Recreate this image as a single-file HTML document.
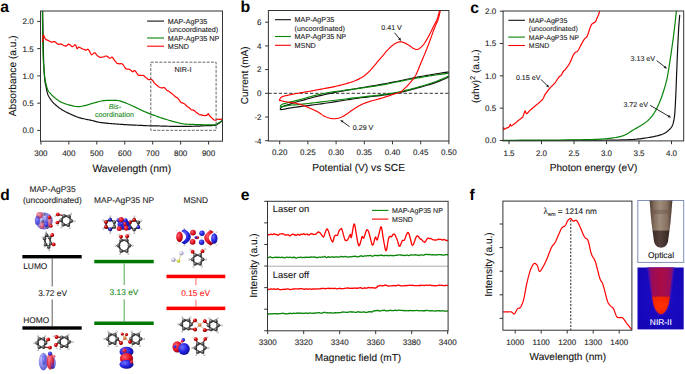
<!DOCTYPE html><html><head><meta charset="utf-8"><style>html,body{margin:0;padding:0;background:#fff;overflow:hidden}svg{display:block}text{font-family:"Liberation Sans", sans-serif;text-rendering:geometricPrecision}</style></head><body>
<svg width="685" height="374" viewBox="0 0 685 374">
<defs><clipPath id="ca"><rect x="40.5" y="11" width="182" height="130.2"/></clipPath><clipPath id="cb"><rect x="268.4" y="10.5" width="180.5" height="130.1"/></clipPath><clipPath id="cc"><rect x="503.1" y="11" width="180.6" height="129.7"/></clipPath><clipPath id="ce"><rect x="267.5" y="201.3" width="180.6" height="129.5"/></clipPath><clipPath id="cf"><rect x="502.9" y="201.1" width="129" height="129.1"/></clipPath></defs>
<rect width="685" height="374" fill="#fff"/>
<text x="0.2" y="12.1" font-size="15.7" text-anchor="start" fill="#000" font-weight="bold" font-style="normal">a</text>
<g clip-path="url(#ca)">
<polyline points="42.6,5 42.63,6.89 42.67,9.38 42.71,12.32 42.76,15.62 42.82,19.16 42.88,22.81 42.94,26.46 43,30 43.06,33.62 43.13,37.52 43.21,41.59 43.28,45.69 43.36,49.7 43.44,53.51 43.52,56.98 43.6,60 43.68,62.56 43.77,64.78 43.86,66.71 43.94,68.41 44.03,69.93 44.12,71.33 44.21,72.67 44.3,74 44.39,75.28 44.47,76.43 44.56,77.46 44.65,78.41 44.74,79.27 44.82,80.06 44.91,80.8 45,81.5 45.08,82.12 45.17,82.61 45.24,83.02 45.33,83.38 45.41,83.72 45.5,84.08 45.59,84.49 45.7,85 45.81,85.59 45.94,86.24 46.06,86.93 46.19,87.64 46.33,88.37 46.48,89.1 46.64,89.81 46.8,90.5 46.96,91.16 47.1,91.79 47.24,92.42 47.4,93.04 47.58,93.68 47.8,94.32 48.07,94.99 48.4,95.7 48.8,96.45 49.26,97.25 49.77,98.08 50.32,98.92 50.9,99.76 51.49,100.58 52.1,101.37 52.7,102.1 53.31,102.78 53.95,103.44 54.61,104.07 55.28,104.67 55.96,105.25 56.64,105.81 57.33,106.36 58,106.9 58.66,107.42 59.32,107.91 59.97,108.39 60.63,108.85 61.3,109.3 61.98,109.74 62.68,110.17 63.4,110.6 64.14,111.02 64.9,111.44 65.68,111.84 66.47,112.23 67.28,112.62 68.1,113.01 68.94,113.4 69.8,113.8 70.69,114.21 71.6,114.63 72.54,115.05 73.49,115.48 74.45,115.89 75.41,116.28 76.36,116.66 77.3,117 78.23,117.31 79.16,117.6 80.09,117.86 81.01,118.11 81.94,118.34 82.86,118.56 83.78,118.78 84.7,119 85.62,119.21 86.54,119.41 87.47,119.59 88.39,119.77 89.3,119.94 90.21,120.12 91.11,120.31 92,120.5 92.86,120.71 93.69,120.93 94.5,121.15 95.31,121.38 96.13,121.6 96.98,121.81 97.86,122.01 98.8,122.2 99.8,122.37 100.84,122.53 101.92,122.67 103.03,122.81 104.15,122.94 105.27,123.07 106.39,123.19 107.5,123.3 108.6,123.41 109.7,123.51 110.8,123.6 111.9,123.68 113,123.76 114.1,123.84 115.2,123.92 116.3,124 117.39,124.08 118.48,124.16 119.57,124.24 120.65,124.31 121.73,124.39 122.82,124.46 123.91,124.53 125,124.6 126.04,124.67 127.02,124.73 127.97,124.79 128.93,124.84 129.95,124.9 131.08,124.96 132.35,125.03 133.8,125.1 135.51,125.18 137.48,125.27 139.61,125.37 141.83,125.47 144.05,125.57 146.21,125.66 148.22,125.74 150,125.8 151.5,125.85 152.76,125.88 153.87,125.9 154.92,125.92 155.97,125.93 157.12,125.95 158.43,125.97 160,126 161.83,126.04 163.85,126.1 166.01,126.16 168.28,126.23 170.61,126.29 172.95,126.34 175.26,126.38 177.5,126.4 179.73,126.41 182.03,126.4 184.36,126.38 186.67,126.36 188.94,126.32 191.1,126.29 193.14,126.24 195,126.2 196.67,126.15 198.19,126.09 199.58,126.03 200.88,125.96 202.1,125.89 203.3,125.83 204.49,125.76 205.7,125.7 206.95,125.65 208.23,125.62 209.49,125.59 210.72,125.56 211.89,125.53 212.98,125.48 213.96,125.4 214.8,125.3 215.49,125.17 216.03,125.01 216.45,124.83 216.8,124.64 217.1,124.43 217.37,124.22 217.66,124.01 218,123.8 218.37,123.59 218.72,123.37 219.08,123.15 219.42,122.92 219.75,122.69 220.08,122.46 220.39,122.23 220.7,122 221.01,121.76 221.32,121.51 221.62,121.25 221.92,120.99 222.19,120.74 222.44,120.52 222.64,120.34 222.8,120.2" fill="none" stroke="#111" stroke-width="1.2" stroke-linejoin="round" stroke-linecap="round"/>
<polyline points="42.3,5 42.32,6.96 42.35,9.61 42.39,12.76 42.42,16.25 42.47,19.89 42.51,23.52 42.56,26.94 42.6,30 42.65,32.79 42.69,35.54 42.74,38.22 42.79,40.81 42.85,43.31 42.9,45.68 42.95,47.92 43,50 43.05,51.9 43.09,53.61 43.13,55.17 43.17,56.62 43.22,58 43.27,59.33 43.33,60.65 43.4,62 43.48,63.36 43.57,64.7 43.67,66.01 43.77,67.28 43.88,68.52 43.98,69.72 44.09,70.88 44.2,72 44.31,73.07 44.41,74.1 44.52,75.08 44.63,76.03 44.74,76.94 44.85,77.82 44.97,78.68 45.1,79.5 45.23,80.29 45.38,81.05 45.52,81.77 45.68,82.46 45.83,83.12 45.99,83.76 46.14,84.39 46.3,85 46.45,85.59 46.6,86.16 46.75,86.71 46.91,87.24 47.06,87.75 47.23,88.24 47.41,88.73 47.6,89.2 47.79,89.64 47.95,90.04 48.12,90.42 48.3,90.78 48.51,91.16 48.77,91.56 49.1,92 49.5,92.5 49.99,93.07 50.56,93.71 51.19,94.38 51.87,95.09 52.58,95.8 53.32,96.5 54.06,97.17 54.8,97.8 55.54,98.4 56.3,98.98 57.07,99.56 57.86,100.11 58.67,100.65 59.5,101.16 60.34,101.65 61.2,102.1 62.08,102.52 62.97,102.91 63.88,103.27 64.81,103.61 65.76,103.92 66.72,104.23 67.7,104.52 68.7,104.8 69.73,105.09 70.8,105.38 71.9,105.66 73.01,105.93 74.11,106.17 75.21,106.37 76.27,106.52 77.3,106.6 78.27,106.62 79.19,106.58 80.09,106.5 80.97,106.38 81.85,106.22 82.76,106.03 83.7,105.82 84.7,105.6 85.76,105.35 86.86,105.05 88.01,104.72 89.17,104.37 90.34,104.02 91.51,103.66 92.67,103.32 93.8,103 94.91,102.69 96,102.38 97.09,102.07 98.17,101.77 99.25,101.48 100.33,101.22 101.41,100.99 102.5,100.8 103.61,100.65 104.74,100.54 105.87,100.45 107.01,100.39 108.13,100.35 109.22,100.33 110.29,100.31 111.3,100.3 112.27,100.29 113.2,100.28 114.1,100.28 114.97,100.3 115.82,100.34 116.66,100.39 117.48,100.48 118.3,100.6 119.09,100.75 119.83,100.92 120.53,101.12 121.24,101.34 121.95,101.59 122.71,101.86 123.51,102.17 124.4,102.5 125.39,102.88 126.47,103.31 127.62,103.79 128.8,104.28 129.98,104.78 131.13,105.28 132.21,105.76 133.2,106.2 134.09,106.61 134.91,107 135.67,107.38 136.4,107.75 137.11,108.11 137.82,108.47 138.54,108.83 139.3,109.2 140.09,109.57 140.91,109.95 141.74,110.33 142.56,110.71 143.38,111.08 144.18,111.44 144.96,111.78 145.7,112.1 146.4,112.39 147.06,112.67 147.7,112.92 148.33,113.16 148.94,113.4 149.55,113.63 150.17,113.86 150.8,114.1 151.45,114.35 152.12,114.59 152.8,114.84 153.47,115.08 154.13,115.32 154.78,115.56 155.41,115.78 156,116 156.55,116.2 157.04,116.4 157.51,116.58 157.96,116.76 158.42,116.93 158.9,117.11 159.42,117.3 160,117.5 160.64,117.71 161.32,117.93 162.04,118.15 162.78,118.38 163.54,118.61 164.3,118.84 165.06,119.07 165.8,119.3 166.53,119.53 167.27,119.76 168.01,119.99 168.75,120.22 169.49,120.45 170.23,120.67 170.97,120.89 171.7,121.1 172.43,121.3 173.15,121.5 173.88,121.69 174.6,121.88 175.32,122.07 176.05,122.25 176.77,122.42 177.5,122.6 178.23,122.78 178.97,122.96 179.71,123.14 180.45,123.32 181.19,123.49 181.93,123.64 182.67,123.78 183.4,123.9 184.13,123.99 184.86,124.07 185.58,124.12 186.31,124.17 187.03,124.2 187.75,124.24 188.48,124.27 189.2,124.3 189.89,124.33 190.54,124.36 191.16,124.39 191.79,124.41 192.47,124.43 193.21,124.45 194.04,124.47 195,124.5 196.11,124.53 197.37,124.58 198.72,124.62 200.14,124.66 201.59,124.71 203.02,124.74 204.41,124.78 205.7,124.8 206.95,124.83 208.23,124.86 209.49,124.89 210.72,124.92 211.89,124.93 212.98,124.92 213.96,124.88 214.8,124.8 215.49,124.68 216.03,124.51 216.45,124.32 216.8,124.1 217.1,123.87 217.37,123.64 217.66,123.41 218,123.2 218.37,123 218.72,122.81 219.08,122.62 219.42,122.43 219.75,122.23 220.08,122.03 220.39,121.82 220.7,121.6 221.01,121.36 221.32,121.08 221.62,120.79 221.92,120.5 222.19,120.22 222.44,119.97 222.64,119.76 222.8,119.6" fill="none" stroke="#088408" stroke-width="1.2" stroke-linejoin="round" stroke-linecap="round"/>
<polyline points="42.6,41.37 43.2,34.91 43.8,35.64 44.4,36.93 45,38.3 45.6,39.19 46.2,39.68 46.8,39.9 47.4,40.09 48,40.36 48.6,40.65 49.2,41.07 49.8,41.25 50.4,41.73 51,41.94 51.6,42.18 52.2,42.13 52.8,41.94 53.4,41.68 54,41.52 54.6,41.58 55.2,41.98 55.8,42.43 56.4,42.99 57,43.42 57.6,43.97 58.2,44.19 58.8,44.33 59.4,44.2 60,44.11 60.6,44.06 61.2,43.94 61.8,44.2 62.4,44.48 63,45.11 63.6,45.55 64.2,45.78 64.8,45.9 65.4,45.93 66,46.15 66.6,45.87 67.2,45.39 67.8,44.61 68.4,44.22 69,44.16 69.6,44.54 70.2,45.05 70.8,45.52 71.4,46.2 72,46.61 72.6,46.74 73.2,46.34 73.8,45.84 74.4,45.21 75,44.68 75.6,44.94 76.2,46.38 76.8,48.28 77.4,48.66 78,47.78 78.6,47.02 79.2,47.19 79.8,47.46 80.4,47.86 81,48.03 81.6,48.41 82.2,48.82 82.8,49.03 83.4,49.22 84,49.35 84.6,49.73 85.2,49.92 85.8,50.11 86.4,49.99 87,49.44 87.6,49.21 88.2,49.32 88.8,50.17 89.4,50.89 90,52.2 90.6,53.51 91.2,54.44 91.8,54.79 92.4,54.42 93,53.89 93.6,53.32 94.2,52.88 94.8,52.82 95.4,53.13 96,53.99 96.6,54.83 97.2,55.45 97.8,55.98 98.4,56.36 99,56.88 99.6,57.1 100.2,57.29 100.8,57.28 101.4,57.22 102,57.23 102.6,57.14 103.2,57 103.8,56.79 104.4,56.58 105,56.26 105.6,56.02 106.2,55.98 106.8,56.16 107.4,56.51 108,57.02 108.6,57.52 109.2,57.97 109.8,58.1 110.4,58.13 111,57.67 111.6,57.13 112.2,57.12 112.8,57.73 113.4,58.66 114,59.63 114.6,60.41 115.2,61.3 115.8,61.97 116.4,62.7 117,63.27 117.6,63.59 118.2,63.64 118.8,63.66 119.4,63.84 120,63.79 120.6,63.66 121.2,63.56 121.8,63.72 122.4,64.07 123,64.66 123.6,65.53 124.2,66.55 124.8,67.49 125.4,68.26 126,68.81 126.6,69 127.2,69.15 127.8,69.15 128.4,69.23 129,69.19 129.6,69.41 130.2,69.78 130.8,70.28 131.4,70.74 132,71.38 132.6,71.7 133.2,71.56 133.8,70.77 134.4,70.44 135,70.67 135.6,71.5 136.2,72.21 136.8,73.11 137.4,73.93 138,74.8 138.6,75.23 139.2,75.34 139.8,75.23 140.4,75.3 141,75.35 141.6,75.49 142.2,75.49 142.8,75.46 143.4,75.45 144,75.78 144.6,76.38 145.2,77.08 145.8,77.51 146.4,77.89 147,78.33 147.6,79.01 148.2,79.51 148.8,79.8 149.4,79.61 150,79.34 150.6,79.15 151.2,79.37 151.8,79.7 152.4,80.2 153,80.91 153.6,81.85 154.2,82.85 154.8,83.41 155.4,84.04 156,84.57 156.6,85.03 157.2,85.49 157.8,85.95 158.4,86.54 159,86.92 159.6,87.2 160.2,87.49 160.8,87.73 161.4,87.89 162,87.96 162.6,87.79 163.2,87.72 163.8,87.44 164.4,87.76 165,88.13 165.6,88.94 166.2,89.57 166.8,90.21 167.4,90.63 168,90.85 168.6,91.24 169.2,91.55 169.8,92.05 170.4,92.44 171,92.96 171.6,93.41 172.2,93.92 172.8,94.41 173.4,94.9 174,95.33 174.6,96.03 175.2,96.58 175.8,97.13 176.4,97.37 177,97.7 177.6,98.11 178.2,98.83 178.8,99.53 179.4,100.35 180,101.12 180.6,101.98 181.2,102.56 181.8,102.71 182.4,102.92 183,103.14 183.6,103.43 184.2,103.73 184.8,104.05 185.4,104.7 186,105.27 186.6,105.86 187.2,106.45 187.8,106.85 188.4,107.28 189,107.65 189.6,108.2 190.2,108.69 190.8,109.35 191.4,109.85 192,109.99 192.6,109.94 193.2,109.99 193.8,110.37 194.4,110.74 195,111.3 195.6,111.86 196.2,112.36 196.8,112.73 197.4,113.13 198,113.51 198.6,114 199.2,114.42 199.8,114.74 200.4,114.8 201,114.79 201.6,114.89 202.2,115.11 202.8,115.33 203.4,115.41 204,115.52 204.6,115.53 205.2,115.56 205.8,115.44 206.4,115.34 207,115.22 207.6,114.44 208.2,113.68 208.8,114.37 209.4,115.41 210,116.09 210.6,116.8 211.2,117.37 211.8,117.92 212.4,118.37 213,119.04 213.6,119.6 214.2,119.93 214.8,120.18 215.4,120.25 216,120.14 216.6,119.79 217.2,119.33 217.8,119.25 218.4,119.2 219,119.4 219.6,119.45 220.2,119.49 220.8,119.4 221.4,119.14 222,118.65 222.6,118.08" fill="none" stroke="#ff0000" stroke-width="1.2" stroke-linejoin="round" stroke-linecap="round"/>
</g>
<rect x="150.8" y="62.2" width="65.3" height="68.1" fill="none" stroke="#555" stroke-width="0.9" stroke-dasharray="2.9,1.4"/>
<text x="183" y="71.8" font-size="7.2" text-anchor="middle" fill="#222" font-weight="normal" font-style="normal" stroke="#222" stroke-width="0.1">NIR-I</text>
<text x="114.9" y="108.5" font-size="7.2" text-anchor="middle" fill="#1a8c1a" font-weight="normal" font-style="italic" stroke="#1a8c1a" stroke-width="0.1">Bis-</text>
<text x="114.5" y="117.1" font-size="7.2" text-anchor="middle" fill="#1a8c1a" font-weight="normal" font-style="normal" stroke="#1a8c1a" stroke-width="0.1">coordination</text>
<rect x="40.5" y="11" width="182" height="130.2" fill="none" stroke="#333" stroke-width="1"/>
<line x1="37.2" y1="130.4" x2="40.5" y2="130.4" stroke="#333" stroke-width="1"/>
<text x="33.6" y="133.28" font-size="8" text-anchor="end" fill="#222" font-weight="normal" font-style="normal" stroke="#222" stroke-width="0.1">0.0</text>
<line x1="37.2" y1="103.15" x2="40.5" y2="103.15" stroke="#333" stroke-width="1"/>
<text x="33.6" y="106.03" font-size="8" text-anchor="end" fill="#222" font-weight="normal" font-style="normal" stroke="#222" stroke-width="0.1">0.5</text>
<line x1="37.2" y1="75.9" x2="40.5" y2="75.9" stroke="#333" stroke-width="1"/>
<text x="33.6" y="78.78" font-size="8" text-anchor="end" fill="#222" font-weight="normal" font-style="normal" stroke="#222" stroke-width="0.1">1.0</text>
<line x1="37.2" y1="48.65" x2="40.5" y2="48.65" stroke="#333" stroke-width="1"/>
<text x="33.6" y="51.53" font-size="8" text-anchor="end" fill="#222" font-weight="normal" font-style="normal" stroke="#222" stroke-width="0.1">1.5</text>
<line x1="37.2" y1="21.4" x2="40.5" y2="21.4" stroke="#333" stroke-width="1"/>
<text x="33.6" y="24.28" font-size="8" text-anchor="end" fill="#222" font-weight="normal" font-style="normal" stroke="#222" stroke-width="0.1">2.0</text>
<line x1="40.9" y1="141.2" x2="40.9" y2="144.5" stroke="#333" stroke-width="1"/>
<text x="40.9" y="155.8" font-size="8" text-anchor="middle" fill="#222" font-weight="normal" font-style="normal" stroke="#222" stroke-width="0.1">300</text>
<line x1="68.85" y1="141.2" x2="68.85" y2="144.5" stroke="#333" stroke-width="1"/>
<text x="68.85" y="155.8" font-size="8" text-anchor="middle" fill="#222" font-weight="normal" font-style="normal" stroke="#222" stroke-width="0.1">400</text>
<line x1="96.8" y1="141.2" x2="96.8" y2="144.5" stroke="#333" stroke-width="1"/>
<text x="96.8" y="155.8" font-size="8" text-anchor="middle" fill="#222" font-weight="normal" font-style="normal" stroke="#222" stroke-width="0.1">500</text>
<line x1="124.75" y1="141.2" x2="124.75" y2="144.5" stroke="#333" stroke-width="1"/>
<text x="124.75" y="155.8" font-size="8" text-anchor="middle" fill="#222" font-weight="normal" font-style="normal" stroke="#222" stroke-width="0.1">600</text>
<line x1="152.7" y1="141.2" x2="152.7" y2="144.5" stroke="#333" stroke-width="1"/>
<text x="152.7" y="155.8" font-size="8" text-anchor="middle" fill="#222" font-weight="normal" font-style="normal" stroke="#222" stroke-width="0.1">700</text>
<line x1="180.65" y1="141.2" x2="180.65" y2="144.5" stroke="#333" stroke-width="1"/>
<text x="180.65" y="155.8" font-size="8" text-anchor="middle" fill="#222" font-weight="normal" font-style="normal" stroke="#222" stroke-width="0.1">800</text>
<line x1="208.6" y1="141.2" x2="208.6" y2="144.5" stroke="#333" stroke-width="1"/>
<text x="208.6" y="155.8" font-size="8" text-anchor="middle" fill="#222" font-weight="normal" font-style="normal" stroke="#222" stroke-width="0.1">900</text>
<text x="131.8" y="171.9" font-size="10.4" text-anchor="middle" fill="#111" font-weight="normal" font-style="normal" stroke="#111" stroke-width="0.1">Wavelength (nm)</text>
<text x="0" y="0" font-size="10.2" text-anchor="middle" fill="#111" font-weight="normal" font-style="normal" stroke="#111" stroke-width="0.1" transform="translate(16.4,75.8) rotate(-90)">Absorbance (a.u.)</text>
<line x1="147.1" y1="21.1" x2="164" y2="21.1" stroke="#111" stroke-width="1.1"/>
<text x="167.7" y="23.69" font-size="7.2" text-anchor="start" fill="#222" font-weight="normal" font-style="normal" stroke="#222" stroke-width="0.1">MAP-AgP35</text>
<text x="167.7" y="31.99" font-size="7.2" text-anchor="start" fill="#222" font-weight="normal" font-style="normal" stroke="#222" stroke-width="0.1">(uncoordinated)</text>
<line x1="147.1" y1="38" x2="164" y2="38" stroke="#088408" stroke-width="1.1"/>
<text x="167.7" y="40.59" font-size="7.2" text-anchor="start" fill="#222" font-weight="normal" font-style="normal" stroke="#222" stroke-width="0.1">MAP-AgP35 NP</text>
<line x1="147.1" y1="46.2" x2="164" y2="46.2" stroke="#ff0000" stroke-width="1.1"/>
<text x="167.7" y="48.79" font-size="7.2" text-anchor="start" fill="#222" font-weight="normal" font-style="normal" stroke="#222" stroke-width="0.1">MSND</text>
<text x="240.4" y="12.3" font-size="15.9" text-anchor="start" fill="#000" font-weight="bold" font-style="normal">b</text>
<g clip-path="url(#cb)">
<line x1="268.4" y1="93.3" x2="448.9" y2="93.3" stroke="#333" stroke-width="1" stroke-dasharray="3.3,1.9"/>
<polyline points="280.2,109 280.32,108.83 280.47,108.59 280.65,108.31 280.85,107.99 281.08,107.67 281.35,107.35 281.66,107.06 282,106.8 282.39,106.58 282.85,106.37 283.34,106.17 283.86,105.99 284.4,105.81 284.95,105.64 285.48,105.47 286,105.3 286.46,105.15 286.86,105.02 287.24,104.91 287.62,104.8 288.06,104.68 288.58,104.53 289.21,104.34 290,104.1 290.86,103.83 291.73,103.54 292.65,103.23 293.69,102.88 294.89,102.5 296.3,102.06 297.99,101.56 300,101 302.35,100.35 305.01,99.61 307.93,98.8 311.07,97.94 314.39,97.06 317.85,96.18 321.4,95.32 325,94.5 328.8,93.69 332.9,92.87 337.19,92.04 341.58,91.23 345.93,90.43 350.16,89.67 354.15,88.95 357.8,88.3 361.11,87.72 364.18,87.2 367.06,86.72 369.78,86.29 372.4,85.87 374.94,85.46 377.46,85.04 380,84.6 382.5,84.15 384.92,83.7 387.27,83.26 389.57,82.81 391.84,82.37 394.11,81.92 396.39,81.46 398.7,81 401.04,80.52 403.38,80.03 405.72,79.53 408.06,79.02 410.39,78.52 412.73,78.03 415.07,77.56 417.4,77.1 419.76,76.66 422.18,76.22 424.61,75.78 427.02,75.36 429.4,74.96 431.71,74.58 433.92,74.22 436,73.9 438.02,73.58 440.05,73.23 442.03,72.9 443.91,72.59 445.65,72.35 447.19,72.18 448.49,72.12 449.5,72.2 450.24,72.42 450.77,72.77 451.08,73.22 451.19,73.76 451.08,74.36 450.77,75 450.24,75.65 449.5,76.3 448.49,76.97 447.19,77.7 445.65,78.46 443.91,79.26 442.03,80.06 440.05,80.86 438.02,81.65 436,82.4 433.92,83.13 431.71,83.86 429.4,84.58 427.03,85.29 424.61,85.99 422.18,86.68 419.76,87.35 417.4,88 415.07,88.64 412.73,89.28 410.39,89.91 408.06,90.52 405.72,91.11 403.38,91.67 401.04,92.2 398.7,92.7 396.39,93.15 394.11,93.56 391.84,93.93 389.57,94.28 387.27,94.61 384.92,94.94 382.5,95.26 380,95.6 377.46,95.92 374.94,96.21 372.4,96.49 369.78,96.76 367.06,97.06 364.18,97.38 361.11,97.76 357.8,98.2 354.15,98.73 350.16,99.34 345.93,100.01 341.58,100.71 337.19,101.41 332.9,102.09 328.8,102.73 325,103.3 321.4,103.81 317.85,104.3 314.39,104.75 311.07,105.18 307.93,105.58 305.01,105.95 302.35,106.29 300,106.6 298,106.87 296.35,107.09 294.98,107.27 293.81,107.43 292.8,107.57 291.87,107.71 290.96,107.85 290,108 289.04,108.17 288.15,108.33 287.33,108.5 286.56,108.66 285.85,108.82 285.2,108.96 284.58,109.09 284,109.2 283.47,109.3 282.99,109.38 282.56,109.45 282.18,109.51 281.83,109.56 281.53,109.59 281.25,109.6 281,109.6 280.79,109.57 280.63,109.51 280.5,109.42 280.41,109.32 280.34,109.22 280.29,109.13 280.25,109.05 280.2,109" fill="none" stroke="#111" stroke-width="1.15" stroke-linejoin="round" stroke-linecap="round"/>
<polyline points="280.2,106.3 280.32,106.15 280.47,105.94 280.65,105.7 280.85,105.42 281.08,105.14 281.35,104.87 281.66,104.62 282,104.4 282.39,104.22 282.85,104.05 283.34,103.89 283.86,103.75 284.4,103.61 284.95,103.48 285.48,103.34 286,103.2 286.46,103.07 286.86,102.95 287.24,102.84 287.62,102.73 288.06,102.61 288.58,102.47 289.21,102.3 290,102.1 290.86,101.88 291.73,101.66 292.65,101.44 293.69,101.18 294.89,100.88 296.3,100.53 297.99,100.11 300,99.6 302.35,98.97 305.01,98.23 307.93,97.41 311.07,96.53 314.39,95.64 317.85,94.76 321.4,93.94 325,93.2 328.8,92.53 332.9,91.89 337.19,91.29 341.58,90.71 345.93,90.15 350.16,89.62 354.15,89.1 357.8,88.6 361.11,88.13 364.18,87.69 367.06,87.28 369.78,86.89 372.4,86.51 374.94,86.12 377.46,85.72 380,85.3 382.5,84.86 384.92,84.4 387.27,83.94 389.57,83.47 391.84,83 394.11,82.53 396.39,82.06 398.7,81.6 401.04,81.14 403.38,80.68 405.72,80.22 408.06,79.76 410.39,79.3 412.73,78.86 415.07,78.42 417.4,78 419.76,77.59 422.18,77.17 424.61,76.77 427.02,76.37 429.4,76 431.71,75.64 433.92,75.3 436,75 438.02,74.71 440.05,74.42 442.03,74.14 443.91,73.89 445.65,73.67 447.19,73.51 448.49,73.42 449.5,73.4 450.24,73.45 450.77,73.55 451.08,73.71 451.19,73.92 451.08,74.19 450.77,74.53 450.24,74.93 449.5,75.4 448.49,75.97 447.19,76.64 445.65,77.4 443.91,78.21 442.03,79.05 440.05,79.9 438.02,80.72 436,81.5 433.92,82.25 431.71,83 429.4,83.75 427.03,84.49 424.61,85.22 422.18,85.93 419.76,86.63 417.4,87.3 415.07,87.95 412.73,88.59 410.39,89.22 408.06,89.83 405.72,90.42 403.38,90.98 401.04,91.51 398.7,92 396.39,92.45 394.11,92.86 391.84,93.23 389.57,93.58 387.27,93.91 384.92,94.24 382.5,94.56 380,94.9 377.46,95.23 374.94,95.54 372.4,95.84 369.78,96.13 367.06,96.44 364.18,96.76 361.11,97.11 357.8,97.5 354.15,97.94 350.16,98.43 345.93,98.95 341.58,99.48 337.19,100.02 332.9,100.54 328.8,101.04 325,101.5 321.4,101.93 317.85,102.35 314.39,102.76 311.07,103.15 307.93,103.51 305.01,103.85 302.35,104.15 300,104.4 298,104.6 296.35,104.74 294.98,104.84 293.81,104.91 292.8,104.96 291.87,105.02 290.96,105.1 290,105.2 289.04,105.34 288.15,105.49 287.33,105.65 286.56,105.82 285.85,105.98 285.2,106.14 284.58,106.28 284,106.4 283.47,106.5 282.99,106.6 282.56,106.69 282.18,106.76 281.83,106.82 281.53,106.87 281.25,106.89 281,106.9 280.79,106.87 280.63,106.81 280.5,106.73 280.41,106.63 280.34,106.53 280.29,106.43 280.25,106.35 280.2,106.3" fill="none" stroke="#088408" stroke-width="1.15" stroke-linejoin="round" stroke-linecap="round"/>
<polyline points="279.4,100.2 279.48,100.03 279.56,99.79 279.67,99.51 279.79,99.2 279.94,98.88 280.1,98.56 280.29,98.26 280.5,98 280.72,97.77 280.94,97.55 281.18,97.35 281.44,97.15 281.74,96.96 282.1,96.77 282.51,96.59 283,96.4 283.58,96.21 284.25,96.03 284.99,95.85 285.78,95.68 286.6,95.5 287.42,95.33 288.23,95.16 289,95 289.69,94.85 290.29,94.72 290.85,94.6 291.44,94.47 292.09,94.34 292.87,94.19 293.82,94.02 295,93.8 296.44,93.54 298.12,93.25 299.97,92.94 301.94,92.6 303.98,92.25 306.04,91.9 308.06,91.54 310,91.2 311.9,90.85 313.84,90.5 315.8,90.13 317.75,89.77 319.67,89.41 321.53,89.06 323.32,88.72 325,88.4 326.57,88.11 328.05,87.84 329.46,87.58 330.81,87.34 332.12,87.09 333.41,86.84 334.7,86.58 336,86.3 337.31,86 338.62,85.68 339.91,85.36 341.19,85.02 342.44,84.69 343.66,84.35 344.85,84.02 346,83.7 347.1,83.39 348.14,83.1 349.15,82.82 350.12,82.53 351.09,82.24 352.05,81.92 353.01,81.58 354,81.2 355.01,80.78 356.05,80.34 357.09,79.88 358.12,79.39 359.15,78.88 360.14,78.36 361.1,77.84 362,77.3 362.85,76.76 363.66,76.2 364.43,75.64 365.17,75.06 365.89,74.47 366.6,73.86 367.3,73.24 368,72.6 368.7,71.94 369.39,71.25 370.07,70.54 370.73,69.81 371.39,69.08 372.03,68.35 372.67,67.62 373.3,66.9 373.91,66.19 374.51,65.47 375.1,64.76 375.68,64.04 376.25,63.33 376.82,62.62 377.41,61.91 378,61.2 378.61,60.49 379.23,59.78 379.86,59.07 380.49,58.36 381.11,57.65 381.73,56.96 382.32,56.27 382.9,55.6 383.45,54.94 383.99,54.28 384.5,53.63 385.01,52.99 385.51,52.36 386.01,51.75 386.5,51.16 387,50.6 387.5,50.06 388,49.54 388.49,49.04 388.98,48.56 389.47,48.1 389.95,47.65 390.43,47.22 390.9,46.8 391.36,46.4 391.8,46.01 392.24,45.64 392.67,45.29 393.1,44.95 393.55,44.62 394.01,44.3 394.5,44 395.02,43.7 395.57,43.39 396.14,43.1 396.71,42.82 397.29,42.56 397.85,42.33 398.39,42.14 398.9,42 399.37,41.9 399.81,41.84 400.24,41.82 400.64,41.83 401.05,41.87 401.45,41.93 401.87,42.01 402.3,42.1 402.75,42.21 403.2,42.36 403.65,42.52 404.11,42.71 404.58,42.91 405.05,43.13 405.52,43.36 406,43.6 406.49,43.86 406.99,44.14 407.5,44.43 408.01,44.74 408.52,45.06 409.03,45.38 409.52,45.69 410,46 410.46,46.31 410.91,46.63 411.34,46.96 411.78,47.28 412.2,47.6 412.63,47.89 413.06,48.16 413.5,48.4 413.95,48.62 414.4,48.84 414.85,49.04 415.31,49.22 415.76,49.36 416.21,49.47 416.66,49.51 417.1,49.5 417.54,49.42 417.97,49.27 418.4,49.07 418.83,48.83 419.25,48.55 419.67,48.24 420.09,47.93 420.5,47.6 420.91,47.26 421.32,46.9 421.73,46.52 422.13,46.11 422.53,45.69 422.93,45.24 423.32,44.78 423.7,44.3 424.08,43.8 424.45,43.27 424.82,42.71 425.18,42.14 425.54,41.56 425.9,40.97 426.25,40.39 426.6,39.8 426.94,39.23 427.27,38.68 427.58,38.14 427.9,37.59 428.22,37.01 428.56,36.4 428.92,35.73 429.3,35 429.71,34.19 430.15,33.31 430.61,32.39 431.08,31.42 431.56,30.43 432.04,29.44 432.53,28.46 433,27.5 433.49,26.55 433.99,25.57 434.51,24.58 435.03,23.59 435.53,22.63 436,21.7 436.43,20.82 436.8,20 437.11,19.25 437.36,18.56 437.58,17.92 437.76,17.31 437.93,16.73 438.08,16.16 438.23,15.58 438.4,15 438.57,14.41 438.74,13.82 438.9,13.23 439.06,12.66 439.2,12.09 439.34,11.54 439.48,11.01 439.6,10.5 439.72,9.99 439.83,9.47 439.93,8.96 440.03,8.47 440.11,8.01 440.19,7.61 440.25,7.26 440.3,7" fill="none" stroke="#ff0000" stroke-width="1.15" stroke-linejoin="round" stroke-linecap="round"/>
<polyline points="440.7,7 440.67,7.26 440.64,7.61 440.61,8.01 440.56,8.47 440.51,8.96 440.45,9.47 440.38,9.99 440.3,10.5 440.21,11.01 440.1,11.54 439.99,12.09 439.86,12.66 439.73,13.23 439.59,13.82 439.45,14.41 439.3,15 439.16,15.57 439.04,16.11 438.91,16.65 438.78,17.2 438.63,17.79 438.44,18.44 438.2,19.17 437.9,20 437.54,20.93 437.12,21.93 436.66,23.01 436.16,24.14 435.63,25.35 435.09,26.61 434.54,27.93 434,29.3 433.44,30.78 432.86,32.39 432.25,34.1 431.64,35.84 431.02,37.59 430.42,39.3 429.85,40.91 429.3,42.4 428.8,43.74 428.33,44.97 427.88,46.12 427.45,47.22 427.02,48.31 426.57,49.41 426.1,50.56 425.6,51.8 425.06,53.11 424.5,54.47 423.91,55.87 423.31,57.29 422.71,58.72 422.1,60.16 421.49,61.59 420.9,63 420.31,64.44 419.7,65.93 419.09,67.45 418.49,68.95 417.89,70.41 417.3,71.79 416.74,73.07 416.2,74.2 415.69,75.17 415.21,76.01 414.75,76.75 414.31,77.4 413.87,78 413.42,78.59 412.97,79.18 412.5,79.8 412.01,80.44 411.52,81.07 411.02,81.69 410.52,82.3 410.01,82.89 409.51,83.47 409,84.04 408.5,84.6 408,85.14 407.5,85.67 407,86.19 406.5,86.69 406,87.19 405.5,87.67 405,88.14 404.5,88.6 404.02,89.05 403.56,89.5 403.11,89.94 402.65,90.37 402.18,90.78 401.67,91.18 401.11,91.55 400.5,91.9 399.83,92.22 399.11,92.49 398.35,92.74 397.56,92.98 396.73,93.21 395.88,93.45 395,93.71 394.1,94 393.17,94.32 392.19,94.66 391.18,95.02 390.15,95.38 389.1,95.75 388.06,96.11 387.02,96.46 386,96.8 385,97.12 383.99,97.43 382.99,97.74 381.99,98.04 381,98.33 380,98.62 379,98.91 378,99.2 377.01,99.48 376.02,99.74 375.04,99.99 374.06,100.24 373.07,100.5 372.07,100.77 371.05,101.07 370,101.4 368.92,101.75 367.82,102.12 366.7,102.49 365.56,102.89 364.42,103.32 363.27,103.77 362.13,104.27 361,104.8 359.85,105.4 358.66,106.07 357.45,106.79 356.25,107.54 355.08,108.28 353.97,109.01 352.93,109.69 352,110.3 351.19,110.84 350.49,111.34 349.88,111.8 349.31,112.23 348.77,112.65 348.23,113.06 347.65,113.47 347,113.9 346.3,114.35 345.56,114.81 344.81,115.28 344.04,115.74 343.27,116.18 342.5,116.6 341.74,116.97 341,117.3 340.27,117.58 339.54,117.84 338.82,118.05 338.11,118.24 337.4,118.4 336.69,118.53 335.99,118.63 335.3,118.7 334.62,118.74 333.96,118.75 333.31,118.73 332.67,118.68 332.02,118.6 331.36,118.49 330.69,118.36 330,118.2 329.28,118.02 328.55,117.81 327.8,117.58 327.04,117.32 326.28,117.03 325.52,116.72 324.75,116.37 324,116 323.26,115.58 322.53,115.11 321.8,114.61 321.07,114.08 320.34,113.54 319.58,113 318.81,112.48 318,112 317.16,111.55 316.3,111.11 315.41,110.68 314.51,110.26 313.6,109.84 312.67,109.43 311.74,109.02 310.8,108.6 309.86,108.18 308.9,107.74 307.93,107.31 306.95,106.88 305.97,106.45 304.98,106.05 303.99,105.66 303,105.3 302,104.96 300.97,104.64 299.93,104.33 298.89,104.04 297.86,103.77 296.86,103.53 295.91,103.3 295,103.1 294.15,102.94 293.36,102.81 292.6,102.71 291.88,102.63 291.16,102.56 290.45,102.49 289.74,102.4 289,102.3 288.23,102.18 287.44,102.04 286.64,101.91 285.85,101.76 285.07,101.62 284.33,101.47 283.64,101.33 283,101.2 282.41,101.06 281.85,100.92 281.32,100.77 280.82,100.63 280.38,100.5 279.99,100.38 279.66,100.28 279.4,100.2" fill="none" stroke="#ff0000" stroke-width="1.15" stroke-linejoin="round" stroke-linecap="round"/>
</g>
<rect x="268.4" y="10.5" width="180.5" height="130.5" fill="none" stroke="#333" stroke-width="1"/>
<line x1="265.1" y1="140.7" x2="268.4" y2="140.7" stroke="#333" stroke-width="1"/>
<text x="261.5" y="143.58" font-size="8" text-anchor="end" fill="#222" font-weight="normal" font-style="normal" stroke="#222" stroke-width="0.1">-4</text>
<line x1="265.1" y1="117" x2="268.4" y2="117" stroke="#333" stroke-width="1"/>
<text x="261.5" y="119.88" font-size="8" text-anchor="end" fill="#222" font-weight="normal" font-style="normal" stroke="#222" stroke-width="0.1">-2</text>
<line x1="265.1" y1="93.3" x2="268.4" y2="93.3" stroke="#333" stroke-width="1"/>
<text x="261.5" y="96.18" font-size="8" text-anchor="end" fill="#222" font-weight="normal" font-style="normal" stroke="#222" stroke-width="0.1">0</text>
<line x1="265.1" y1="69.6" x2="268.4" y2="69.6" stroke="#333" stroke-width="1"/>
<text x="261.5" y="72.48" font-size="8" text-anchor="end" fill="#222" font-weight="normal" font-style="normal" stroke="#222" stroke-width="0.1">2</text>
<line x1="265.1" y1="45.9" x2="268.4" y2="45.9" stroke="#333" stroke-width="1"/>
<text x="261.5" y="48.78" font-size="8" text-anchor="end" fill="#222" font-weight="normal" font-style="normal" stroke="#222" stroke-width="0.1">4</text>
<line x1="265.1" y1="22.2" x2="268.4" y2="22.2" stroke="#333" stroke-width="1"/>
<text x="261.5" y="25.08" font-size="8" text-anchor="end" fill="#222" font-weight="normal" font-style="normal" stroke="#222" stroke-width="0.1">6</text>
<line x1="279.7" y1="141" x2="279.7" y2="144.3" stroke="#333" stroke-width="1"/>
<text x="279.7" y="155.4" font-size="8" text-anchor="middle" fill="#222" font-weight="normal" font-style="normal" stroke="#222" stroke-width="0.1">0.20</text>
<line x1="307.9" y1="141" x2="307.9" y2="144.3" stroke="#333" stroke-width="1"/>
<text x="307.9" y="155.4" font-size="8" text-anchor="middle" fill="#222" font-weight="normal" font-style="normal" stroke="#222" stroke-width="0.1">0.25</text>
<line x1="336.1" y1="141" x2="336.1" y2="144.3" stroke="#333" stroke-width="1"/>
<text x="336.1" y="155.4" font-size="8" text-anchor="middle" fill="#222" font-weight="normal" font-style="normal" stroke="#222" stroke-width="0.1">0.30</text>
<line x1="364.3" y1="141" x2="364.3" y2="144.3" stroke="#333" stroke-width="1"/>
<text x="364.3" y="155.4" font-size="8" text-anchor="middle" fill="#222" font-weight="normal" font-style="normal" stroke="#222" stroke-width="0.1">0.35</text>
<line x1="392.5" y1="141" x2="392.5" y2="144.3" stroke="#333" stroke-width="1"/>
<text x="392.5" y="155.4" font-size="8" text-anchor="middle" fill="#222" font-weight="normal" font-style="normal" stroke="#222" stroke-width="0.1">0.40</text>
<line x1="420.7" y1="141" x2="420.7" y2="144.3" stroke="#333" stroke-width="1"/>
<text x="420.7" y="155.4" font-size="8" text-anchor="middle" fill="#222" font-weight="normal" font-style="normal" stroke="#222" stroke-width="0.1">0.45</text>
<line x1="448.9" y1="141" x2="448.9" y2="144.3" stroke="#333" stroke-width="1"/>
<text x="448.9" y="155.4" font-size="8" text-anchor="middle" fill="#222" font-weight="normal" font-style="normal" stroke="#222" stroke-width="0.1">0.50</text>
<text x="358.6" y="171" font-size="10.2" text-anchor="middle" fill="#111" font-weight="normal" font-style="normal" stroke="#111" stroke-width="0.1">Potential (V) vs SCE</text>
<text x="0" y="0" font-size="10.0" text-anchor="middle" fill="#111" font-weight="normal" font-style="normal" stroke="#111" stroke-width="0.1" transform="translate(247.9,75.3) rotate(-90)">Current (mA)</text>
<line x1="275" y1="19.7" x2="290.9" y2="19.7" stroke="#111" stroke-width="1.1"/>
<text x="294.6" y="22.29" font-size="7.2" text-anchor="start" fill="#222" font-weight="normal" font-style="normal" stroke="#222" stroke-width="0.1">MAP-AgP35</text>
<text x="294.6" y="31.09" font-size="7.2" text-anchor="start" fill="#222" font-weight="normal" font-style="normal" stroke="#222" stroke-width="0.1">(uncoordinated)</text>
<line x1="275" y1="36.5" x2="290.9" y2="36.5" stroke="#088408" stroke-width="1.1"/>
<text x="294.6" y="39.09" font-size="7.2" text-anchor="start" fill="#222" font-weight="normal" font-style="normal" stroke="#222" stroke-width="0.1">MAP-AgP35 NP</text>
<line x1="275" y1="45.3" x2="290.9" y2="45.3" stroke="#ff0000" stroke-width="1.1"/>
<text x="294.6" y="47.89" font-size="7.2" text-anchor="start" fill="#222" font-weight="normal" font-style="normal" stroke="#222" stroke-width="0.1">MSND</text>
<text x="391.6" y="29.8" font-size="7.1" text-anchor="middle" fill="#222" font-weight="normal" font-style="normal" stroke="#222" stroke-width="0.1">0.41 V</text>
<line x1="394.5" y1="32.7" x2="399.49" y2="38.81" stroke="#111" stroke-width="0.9"/>
<polygon points="401.2,40.9 398.13,39.27 400.22,37.57" fill="#111"/>
<text x="363.1" y="129.8" font-size="7.1" text-anchor="middle" fill="#222" font-weight="normal" font-style="normal" stroke="#222" stroke-width="0.1">0.29 V</text>
<line x1="349.6" y1="126.7" x2="342.39" y2="121.48" stroke="#111" stroke-width="0.9"/>
<polygon points="340.2,119.9 343.58,120.69 342,122.86" fill="#111"/>
<text x="470.2" y="12.5" font-size="15.7" text-anchor="start" fill="#000" font-weight="bold" font-style="normal">c</text>
<g clip-path="url(#cc)">
<polyline points="503,140.6 507.51,140.59 513.64,140.58 520.95,140.57 529,140.56 537.37,140.55 545.61,140.53 553.3,140.52 560,140.5 565.9,140.48 571.5,140.46 576.83,140.45 581.89,140.43 586.71,140.4 591.33,140.37 595.75,140.34 600,140.3 604.07,140.26 607.95,140.21 611.61,140.16 615.08,140.1 618.33,140.04 621.37,139.97 624.19,139.89 626.8,139.8 629.12,139.7 631.11,139.6 632.84,139.49 634.38,139.38 635.8,139.25 637.17,139.11 638.54,138.96 640,138.8 641.52,138.62 643.02,138.42 644.5,138.2 645.94,137.98 647.34,137.75 648.67,137.53 649.93,137.31 651.1,137.1 652.17,136.91 653.14,136.73 654.03,136.55 654.86,136.38 655.65,136.2 656.42,136.02 657.2,135.82 658,135.6 658.82,135.36 659.66,135.11 660.48,134.84 661.29,134.57 662.08,134.29 662.84,133.99 663.54,133.7 664.2,133.4 664.79,133.1 665.32,132.81 665.81,132.52 666.26,132.21 666.69,131.9 667.11,131.56 667.55,131.19 668,130.8 668.48,130.38 668.97,129.93 669.47,129.46 669.97,128.97 670.45,128.46 670.9,127.92 671.32,127.37 671.7,126.8 672.03,126.22 672.32,125.64 672.58,125.05 672.81,124.43 673.02,123.78 673.22,123.08 673.41,122.32 673.6,121.5 673.78,120.66 673.95,119.82 674.11,118.96 674.26,118.04 674.4,117.02 674.53,115.87 674.66,114.54 674.8,113 674.94,111.24 675.07,109.29 675.19,107.17 675.32,104.91 675.44,102.53 675.56,100.07 675.68,97.55 675.8,95 675.92,92.37 676.03,89.62 676.14,86.79 676.25,83.88 676.36,80.92 676.47,77.94 676.58,74.96 676.7,72 676.82,69.02 676.94,65.98 677.07,62.9 677.19,59.81 677.32,56.75 677.45,53.74 677.57,50.82 677.7,48 677.83,45.26 677.95,42.55 678.08,39.88 678.2,37.29 678.33,34.78 678.45,32.39 678.58,30.12 678.7,28 678.83,25.98 678.97,24.03 679.12,22.18 679.26,20.45 679.4,18.88 679.52,17.49 679.62,16.32 679.7,15.4" fill="none" stroke="#111" stroke-width="1.2" stroke-linejoin="round" stroke-linecap="round"/>
<polyline points="503,140.3 507.55,140.28 513.76,140.25 521.17,140.22 529.31,140.19 537.73,140.15 545.96,140.1 553.54,140.05 560,140 565.56,139.94 570.77,139.88 575.62,139.82 580.12,139.75 584.31,139.67 588.17,139.59 591.73,139.5 595,139.4 597.87,139.29 600.27,139.17 602.31,139.05 604.06,138.92 605.62,138.78 607.07,138.63 608.5,138.47 610,138.3 611.52,138.12 612.95,137.93 614.29,137.73 615.56,137.52 616.76,137.3 617.9,137.07 618.98,136.84 620,136.6 620.94,136.36 621.77,136.12 622.53,135.89 623.23,135.64 623.9,135.37 624.57,135.08 625.26,134.76 626,134.4 626.75,134.01 627.46,133.61 628.16,133.19 628.87,132.73 629.62,132.24 630.45,131.71 631.36,131.13 632.4,130.5 633.61,129.79 635,128.99 636.5,128.14 638.06,127.24 639.61,126.34 641.11,125.45 642.49,124.59 643.7,123.8 644.74,123.07 645.66,122.39 646.49,121.73 647.25,121.09 647.96,120.46 648.64,119.8 649.31,119.12 650,118.4 650.68,117.64 651.34,116.87 651.98,116.09 652.59,115.28 653.18,114.45 653.76,113.6 654.34,112.71 654.9,111.8 655.46,110.85 656,109.85 656.53,108.83 657.04,107.78 657.55,106.72 658.04,105.64 658.53,104.57 659,103.5 659.45,102.47 659.88,101.5 660.29,100.53 660.69,99.56 661.09,98.53 661.5,97.41 661.94,96.18 662.4,94.8 662.9,93.25 663.45,91.56 664.01,89.75 664.59,87.86 665.16,85.91 665.71,83.93 666.23,81.95 666.7,80 667.12,78.08 667.51,76.15 667.86,74.22 668.19,72.26 668.52,70.27 668.84,68.24 669.16,66.15 669.5,64 669.85,61.75 670.21,59.41 670.58,57.01 670.94,54.56 671.29,52.11 671.64,49.68 671.98,47.3 672.3,45 672.6,42.79 672.89,40.66 673.17,38.57 673.44,36.5 673.71,34.43 673.97,32.34 674.23,30.21 674.5,28 674.78,25.59 675.08,22.95 675.39,20.19 675.69,17.44 675.97,14.82 676.23,12.46 676.44,10.48 676.6,9" fill="none" stroke="#088408" stroke-width="1.2" stroke-linejoin="round" stroke-linecap="round"/>
<polyline points="503,130.19 503.6,127.65 504.2,129.05 504.8,129.09 505.4,128.73 506,128.37 506.6,128.07 507.2,127.81 507.8,127.7 508.4,127.41 509,127.05 509.6,125.82 510.2,124.38 510.8,125.64 511.4,125.9 512,125.49 512.6,125.1 513.2,124.64 513.8,124.16 514.4,123.77 515,123.3 515.6,122.96 516.2,122.39 516.8,121.9 517.4,121.24 518,120.71 518.6,120.29 519.2,119.81 519.8,119.41 520.4,118.95 521,118.55 521.6,118.1 522.2,117.51 522.8,116.79 523.4,115.36 524,113.66 524.6,111.79 525.2,110.89 525.8,112.43 526.4,113.64 527,113.46 527.6,112.93 528.2,112.28 528.8,111.57 529.4,110.91 530,110.3 530.6,109.82 531.2,109.29 531.8,108.72 532.4,108.23 533,107.64 533.6,107.19 534.2,106.68 534.8,106.21 535.4,105.74 536,105.15 536.6,104.73 537.2,104.27 537.8,103.83 538.4,103.34 539,102.75 539.6,102.24 540.2,101.66 540.8,101.15 541.4,100.54 542,99.96 542.6,99.34 543.2,98.51 543.8,97.24 544.4,95.63 545,94.59 545.6,93.69 546.2,92.98 546.8,92.17 547.4,91.31 548,90.42 548.6,89.63 549.2,88.85 549.8,88.14 550.4,87.41 551,86.81 551.6,86.18 552.2,85.73 552.8,85.18 553.4,84.64 554,83.97 554.6,83.4 555.2,82.58 555.8,81.72 556.4,80.74 557,79.91 557.6,79.02 558.2,78.15 558.8,77.26 559.4,76.58 560,76.1 560.6,75.82 561.2,75.28 561.8,74.31 562.4,73.11 563,71.92 563.6,71.04 564.2,70.45 564.8,69.99 565.4,69.45 566,68.67 566.6,67.83 567.2,66.98 567.8,66.17 568.4,65.32 569,64.38 569.6,63.31 570.2,62.11 570.8,60.87 571.4,59.5 572,58.1 572.6,56.48 573.2,55.28 573.8,54.22 574.4,53.33 575,52.61 575.6,52.15 576.2,52.02 576.8,51.74 577.4,51.31 578,50.5 578.6,49.53 579.2,48.46 579.8,47.26 580.4,46.05 581,44.89 581.6,43.8 582.2,42.74 582.8,41.6 583.4,40.65 584,39.7 584.6,38.87 585.2,38.21 585.8,37.81 586.4,37.46 587,36.69 587.6,35.37 588.2,33.55 588.8,31.68 589.4,29.97 590,28.14 590.6,26.5 591.2,25.12 591.8,24.14 592.4,23.64 593,23.22 593.6,22.9 594.2,22.64 594.8,22.3 595.4,21.63 596,20.59 596.6,19.22 597.2,17.85 597.8,16.36 598.4,14.85 599,13.19 599.6,11.41" fill="none" stroke="#ff0000" stroke-width="1.2" stroke-linejoin="round" stroke-linecap="round"/>
</g>
<rect x="503.1" y="11" width="180.6" height="129.9" fill="none" stroke="#333" stroke-width="1"/>
<line x1="499.8" y1="140.5" x2="503.1" y2="140.5" stroke="#333" stroke-width="1"/>
<text x="496.2" y="143.38" font-size="8" text-anchor="end" fill="#222" font-weight="normal" font-style="normal" stroke="#222" stroke-width="0.1">0.0</text>
<line x1="499.8" y1="108.17" x2="503.1" y2="108.17" stroke="#333" stroke-width="1"/>
<text x="496.2" y="111.05" font-size="8" text-anchor="end" fill="#222" font-weight="normal" font-style="normal" stroke="#222" stroke-width="0.1">0.5</text>
<line x1="499.8" y1="75.85" x2="503.1" y2="75.85" stroke="#333" stroke-width="1"/>
<text x="496.2" y="78.73" font-size="8" text-anchor="end" fill="#222" font-weight="normal" font-style="normal" stroke="#222" stroke-width="0.1">1.0</text>
<line x1="499.8" y1="43.52" x2="503.1" y2="43.52" stroke="#333" stroke-width="1"/>
<text x="496.2" y="46.4" font-size="8" text-anchor="end" fill="#222" font-weight="normal" font-style="normal" stroke="#222" stroke-width="0.1">1.5</text>
<line x1="499.8" y1="11.2" x2="503.1" y2="11.2" stroke="#333" stroke-width="1"/>
<text x="496.2" y="14.08" font-size="8" text-anchor="end" fill="#222" font-weight="normal" font-style="normal" stroke="#222" stroke-width="0.1">2.0</text>
<line x1="509" y1="140.9" x2="509" y2="144.2" stroke="#333" stroke-width="1"/>
<text x="509" y="156" font-size="8" text-anchor="middle" fill="#222" font-weight="normal" font-style="normal" stroke="#222" stroke-width="0.1">1.5</text>
<line x1="541.5" y1="140.9" x2="541.5" y2="144.2" stroke="#333" stroke-width="1"/>
<text x="541.5" y="156" font-size="8" text-anchor="middle" fill="#222" font-weight="normal" font-style="normal" stroke="#222" stroke-width="0.1">2.0</text>
<line x1="574" y1="140.9" x2="574" y2="144.2" stroke="#333" stroke-width="1"/>
<text x="574" y="156" font-size="8" text-anchor="middle" fill="#222" font-weight="normal" font-style="normal" stroke="#222" stroke-width="0.1">2.5</text>
<line x1="606.5" y1="140.9" x2="606.5" y2="144.2" stroke="#333" stroke-width="1"/>
<text x="606.5" y="156" font-size="8" text-anchor="middle" fill="#222" font-weight="normal" font-style="normal" stroke="#222" stroke-width="0.1">3.0</text>
<line x1="639" y1="140.9" x2="639" y2="144.2" stroke="#333" stroke-width="1"/>
<text x="639" y="156" font-size="8" text-anchor="middle" fill="#222" font-weight="normal" font-style="normal" stroke="#222" stroke-width="0.1">3.5</text>
<line x1="671.5" y1="140.9" x2="671.5" y2="144.2" stroke="#333" stroke-width="1"/>
<text x="671.5" y="156" font-size="8" text-anchor="middle" fill="#222" font-weight="normal" font-style="normal" stroke="#222" stroke-width="0.1">4.0</text>
<text x="593.5" y="171.4" font-size="10.1" text-anchor="middle" fill="#111" font-weight="normal" font-style="normal" stroke="#111" stroke-width="0.1">Photon energy (eV)</text>
<text transform="translate(479.2,76.2) rotate(-90)" font-size="10.2" text-anchor="middle" fill="#111" stroke="#111" stroke-width="0.1">(<tspan font-family="Liberation Serif" font-size="11">&#945;</tspan>hv)<tspan dy="-4" font-size="7">2</tspan><tspan dy="4"> (a.u.)</tspan></text>
<line x1="508.3" y1="20.3" x2="524.9" y2="20.3" stroke="#111" stroke-width="1.1"/>
<text x="528.8" y="22.82" font-size="7.0" text-anchor="start" fill="#222" font-weight="normal" font-style="normal" stroke="#222" stroke-width="0.1">MAP-AgP35</text>
<text x="528.8" y="31.02" font-size="7.0" text-anchor="start" fill="#222" font-weight="normal" font-style="normal" stroke="#222" stroke-width="0.1">(uncoordinated)</text>
<line x1="508.3" y1="37.1" x2="524.9" y2="37.1" stroke="#088408" stroke-width="1.1"/>
<text x="528.8" y="39.62" font-size="7.0" text-anchor="start" fill="#222" font-weight="normal" font-style="normal" stroke="#222" stroke-width="0.1">MAP-AgP35 NP</text>
<line x1="508.3" y1="45.5" x2="524.9" y2="45.5" stroke="#ff0000" stroke-width="1.1"/>
<text x="528.8" y="48.02" font-size="7.0" text-anchor="start" fill="#222" font-weight="normal" font-style="normal" stroke="#222" stroke-width="0.1">MSND</text>
<text x="642.8" y="60.8" font-size="7.1" text-anchor="middle" fill="#222" font-weight="normal" font-style="normal" stroke="#222" stroke-width="0.1">3.13 eV</text>
<line x1="656.7" y1="60.6" x2="664.88" y2="67.03" stroke="#111" stroke-width="0.9"/>
<polygon points="667,68.7 663.65,67.78 665.32,65.67" fill="#111"/>
<text x="635.7" y="106.6" font-size="7.1" text-anchor="middle" fill="#222" font-weight="normal" font-style="normal" stroke="#222" stroke-width="0.1">3.72 eV</text>
<line x1="650.2" y1="105.3" x2="668.68" y2="116.23" stroke="#111" stroke-width="0.9"/>
<polygon points="671,117.6 667.56,117.13 668.93,114.81" fill="#111"/>
<text x="528.2" y="80.3" font-size="7.1" text-anchor="middle" fill="#222" font-weight="normal" font-style="normal" stroke="#222" stroke-width="0.1">0.15 eV</text>
<line x1="540.9" y1="79.3" x2="547.29" y2="85.69" stroke="#111" stroke-width="0.9"/>
<polygon points="549.2,87.6 545.99,86.29 547.89,84.39" fill="#111"/>
<defs><radialGradient id="gC" cx="35%" cy="35%" r="65%"><stop offset="0" stop-color="#b0b0b0"/><stop offset="0.5" stop-color="#555"/><stop offset="1" stop-color="#222"/></radialGradient><radialGradient id="gO" cx="35%" cy="35%" r="65%"><stop offset="0" stop-color="#ff9090"/><stop offset="0.5" stop-color="#e00000"/><stop offset="1" stop-color="#800000"/></radialGradient><radialGradient id="gH" cx="35%" cy="35%" r="65%"><stop offset="0" stop-color="#fff"/><stop offset="1" stop-color="#999"/></radialGradient><radialGradient id="gN" cx="35%" cy="35%" r="65%"><stop offset="0" stop-color="#9090ff"/><stop offset="0.5" stop-color="#2020e0"/><stop offset="1" stop-color="#000080"/></radialGradient><radialGradient id="gAg" cx="35%" cy="35%" r="65%"><stop offset="0" stop-color="#ffc080"/><stop offset="1" stop-color="#b05010"/></radialGradient><radialGradient id="gS" cx="35%" cy="35%" r="65%"><stop offset="0" stop-color="#ffff80"/><stop offset="1" stop-color="#a0a000"/></radialGradient><radialGradient id="gL" cx="35%" cy="35%" r="65%"><stop offset="0" stop-color="#fff"/><stop offset="1" stop-color="#9090c0"/></radialGradient><radialGradient id="bR" cx="35%" cy="35%" r="70%"><stop offset="0" stop-color="#ff6070"/><stop offset="0.6" stop-color="#e01020"/><stop offset="1" stop-color="#900010"/></radialGradient><radialGradient id="bB" cx="35%" cy="35%" r="70%"><stop offset="0" stop-color="#7070ff"/><stop offset="0.6" stop-color="#2020e0"/><stop offset="1" stop-color="#101090"/></radialGradient><radialGradient id="bRt" cx="35%" cy="35%" r="70%"><stop offset="0" stop-color="#f0a0b0"/><stop offset="1" stop-color="#c03050"/></radialGradient><radialGradient id="bBt" cx="35%" cy="35%" r="70%"><stop offset="0" stop-color="#c0c0ff"/><stop offset="1" stop-color="#5050d0"/></radialGradient></defs>
<text x="0.2" y="200.4" font-size="15.5" text-anchor="start" fill="#000" font-weight="bold" font-style="normal">d</text>
<text x="52.6" y="192.3" font-size="8.4" text-anchor="middle" fill="#222" font-weight="normal" font-style="normal" stroke="#222" stroke-width="0.1">MAP-AgP35</text>
<text x="52.4" y="203.2" font-size="8.4" text-anchor="middle" fill="#222" font-weight="normal" font-style="normal" stroke="#222" stroke-width="0.1">(uncoordinated)</text>
<text x="124.1" y="202.6" font-size="8.4" text-anchor="middle" fill="#222" font-weight="normal" font-style="normal" stroke="#222" stroke-width="0.1">MAP-AgP35 NP</text>
<text x="195.8" y="202.6" font-size="8.4" text-anchor="middle" fill="#222" font-weight="normal" font-style="normal" stroke="#222" stroke-width="0.1">MSND</text>
<rect x="22.4" y="255" width="59.3" height="3.4" fill="#000"/>
<rect x="22.4" y="326.3" width="59.3" height="3.4" fill="#000"/>
<line x1="52.2" y1="258.4" x2="52.2" y2="286.5" stroke="#333" stroke-width="0.8"/>
<line x1="52.2" y1="299.5" x2="52.2" y2="326.3" stroke="#333" stroke-width="0.8"/>
<text x="23.2" y="269" font-size="8.4" text-anchor="start" fill="#222" font-weight="normal" font-style="normal" stroke="#222" stroke-width="0.1">LUMO</text>
<text x="23.2" y="323.4" font-size="8.4" text-anchor="start" fill="#222" font-weight="normal" font-style="normal" stroke="#222" stroke-width="0.1">HOMO</text>
<text x="52.6" y="296.3" font-size="8.4" text-anchor="middle" fill="#222" font-weight="normal" font-style="normal" stroke="#222" stroke-width="0.1">3.72 eV</text>
<rect x="94.3" y="259.8" width="59.4" height="3.5" fill="#007800"/>
<rect x="94.3" y="321.5" width="59.4" height="3.5" fill="#007800"/>
<line x1="124.2" y1="263.3" x2="124.2" y2="285" stroke="#3aa03a" stroke-width="0.9"/>
<line x1="124.2" y1="299.4" x2="124.2" y2="321.5" stroke="#3aa03a" stroke-width="0.9"/>
<text x="124" y="295.3" font-size="8.4" text-anchor="middle" fill="#1a8c1a" font-weight="normal" font-style="normal" stroke="#1a8c1a" stroke-width="0.1">3.13 eV</text>
<rect x="166.5" y="274.7" width="58.8" height="3.5" fill="#ff0000"/>
<rect x="166.5" y="306.6" width="58.8" height="3.5" fill="#ff0000"/>
<line x1="195.9" y1="278.2" x2="195.9" y2="285.3" stroke="#ff4040" stroke-width="0.8"/>
<line x1="195.9" y1="299.8" x2="195.9" y2="306.6" stroke="#ff4040" stroke-width="0.8"/>
<text x="195.6" y="295.8" font-size="8.4" text-anchor="middle" fill="#ff1010" font-weight="normal" font-style="normal" stroke="#ff1010" stroke-width="0.1">0.15 eV</text>
<ellipse cx="44" cy="220.8" rx="8.8" ry="8.6" fill="url(#bBt)" opacity="0.85" transform="rotate(0 44 220.8)"/>
<ellipse cx="39.7" cy="215.2" rx="3.4" ry="3.2" fill="url(#bRt)" opacity="0.95" transform="rotate(0 39.7 215.2)"/>
<ellipse cx="37.4" cy="220.5" rx="2.6" ry="4.6" fill="url(#bB)" opacity="0.55" transform="rotate(0 37.4 220.5)"/>
<ellipse cx="45.4" cy="218" rx="3" ry="5" fill="url(#bBt)" opacity="0.9" transform="rotate(0 45.4 218)"/>
<ellipse cx="42" cy="225.4" rx="2.6" ry="3.2" fill="url(#bRt)" opacity="0.9" transform="rotate(0 42 225.4)"/>
<ellipse cx="46.4" cy="224.2" rx="2.2" ry="2.8" fill="url(#bB)" opacity="0.75" transform="rotate(0 46.4 224.2)"/>
<ellipse cx="49.7" cy="221.4" rx="2" ry="6" fill="url(#bRt)" opacity="0.8" transform="rotate(0 49.7 221.4)"/>
<circle cx="42.7" cy="221.4" r="1.2" fill="url(#gC)"/>
<circle cx="44.5" cy="214.5" r="1" fill="url(#gC)"/>
<circle cx="47.5" cy="227.5" r="1" fill="url(#gC)"/>
<circle cx="49.4" cy="217.4" r="1.8" fill="url(#gO)"/>
<circle cx="51" cy="226" r="1.8" fill="url(#gO)"/>
<line x1="71.18" y1="220.94" x2="74.5" y2="221.23" stroke="#888" stroke-width="0.9"/>
<circle cx="74.5" cy="221.23" r="1.1" fill="url(#gH)"/>
<line x1="68.31" y1="225.03" x2="69.72" y2="228.05" stroke="#888" stroke-width="0.9"/>
<circle cx="69.72" cy="228.05" r="1.1" fill="url(#gH)"/>
<line x1="63.33" y1="224.6" x2="61.42" y2="227.33" stroke="#888" stroke-width="0.9"/>
<circle cx="61.42" cy="227.33" r="1.1" fill="url(#gH)"/>
<line x1="69.07" y1="216.4" x2="70.98" y2="213.67" stroke="#888" stroke-width="0.9"/>
<circle cx="70.98" cy="213.67" r="1.1" fill="url(#gH)"/>
<line x1="71.18" y1="220.94" x2="68.31" y2="225.03" stroke="#3a3a3a" stroke-width="1.7"/>
<line x1="68.31" y1="225.03" x2="63.33" y2="224.6" stroke="#3a3a3a" stroke-width="1.7"/>
<line x1="63.33" y1="224.6" x2="61.22" y2="220.06" stroke="#3a3a3a" stroke-width="1.7"/>
<line x1="61.22" y1="220.06" x2="64.09" y2="215.97" stroke="#3a3a3a" stroke-width="1.7"/>
<line x1="64.09" y1="215.97" x2="69.07" y2="216.4" stroke="#3a3a3a" stroke-width="1.7"/>
<line x1="69.07" y1="216.4" x2="71.18" y2="220.94" stroke="#3a3a3a" stroke-width="1.7"/>
<line x1="64.09" y1="215.97" x2="57.8" y2="214.4" stroke="#822" stroke-width="1.3"/>
<line x1="61.22" y1="220.06" x2="57.4" y2="222.6" stroke="#822" stroke-width="1.3"/>
<circle cx="71.18" cy="220.94" r="1.85" fill="url(#gC)"/>
<circle cx="68.31" cy="225.03" r="1.85" fill="url(#gC)"/>
<circle cx="63.33" cy="224.6" r="1.85" fill="url(#gC)"/>
<circle cx="61.22" cy="220.06" r="1.85" fill="url(#gC)"/>
<circle cx="64.09" cy="215.97" r="1.85" fill="url(#gC)"/>
<circle cx="69.07" cy="216.4" r="1.85" fill="url(#gC)"/>
<circle cx="57.8" cy="214.4" r="1.9" fill="url(#gO)"/>
<circle cx="57.4" cy="222.6" r="1.9" fill="url(#gO)"/>
<circle cx="55.1" cy="215.7" r="0.9" fill="url(#gH)"/>
<circle cx="57.8" cy="225.2" r="0.9" fill="url(#gH)"/>
<line x1="48.64" y1="246.91" x2="49.22" y2="250.19" stroke="#888" stroke-width="0.9"/>
<circle cx="49.22" cy="250.19" r="1.1" fill="url(#gH)"/>
<line x1="45.56" y1="244.41" x2="44.43" y2="246.3" stroke="#888" stroke-width="0.9"/>
<circle cx="44.43" cy="246.3" r="1.1" fill="url(#gH)"/>
<line x1="44.52" y1="238.5" x2="42.81" y2="237.11" stroke="#888" stroke-width="0.9"/>
<circle cx="42.81" cy="237.11" r="1.1" fill="url(#gH)"/>
<line x1="46.56" y1="235.09" x2="45.98" y2="231.81" stroke="#888" stroke-width="0.9"/>
<circle cx="45.98" cy="231.81" r="1.1" fill="url(#gH)"/>
<line x1="48.64" y1="246.91" x2="45.56" y2="244.41" stroke="#3a3a3a" stroke-width="1.7"/>
<line x1="45.56" y1="244.41" x2="44.52" y2="238.5" stroke="#3a3a3a" stroke-width="1.7"/>
<line x1="44.52" y1="238.5" x2="46.56" y2="235.09" stroke="#3a3a3a" stroke-width="1.7"/>
<line x1="46.56" y1="235.09" x2="49.64" y2="237.59" stroke="#3a3a3a" stroke-width="1.7"/>
<line x1="49.64" y1="237.59" x2="50.68" y2="243.5" stroke="#3a3a3a" stroke-width="1.7"/>
<line x1="50.68" y1="243.5" x2="48.64" y2="246.91" stroke="#3a3a3a" stroke-width="1.7"/>
<line x1="49.64" y1="237.59" x2="52.3" y2="235" stroke="#822" stroke-width="1.3"/>
<line x1="50.68" y1="243.5" x2="53.7" y2="244.4" stroke="#822" stroke-width="1.3"/>
<circle cx="48.64" cy="246.91" r="1.85" fill="url(#gC)"/>
<circle cx="45.56" cy="244.41" r="1.85" fill="url(#gC)"/>
<circle cx="44.52" cy="238.5" r="1.85" fill="url(#gC)"/>
<circle cx="46.56" cy="235.09" r="1.85" fill="url(#gC)"/>
<circle cx="49.64" cy="237.59" r="1.85" fill="url(#gC)"/>
<circle cx="50.68" cy="243.5" r="1.85" fill="url(#gC)"/>
<circle cx="52.3" cy="235" r="1.9" fill="url(#gO)"/>
<circle cx="53.7" cy="244.4" r="1.9" fill="url(#gO)"/>
<line x1="39.3" y1="347.06" x2="37.84" y2="349.95" stroke="#888" stroke-width="0.9"/>
<circle cx="37.84" cy="349.95" r="1.1" fill="url(#gH)"/>
<line x1="37.2" y1="342.9" x2="34.28" y2="342.9" stroke="#888" stroke-width="0.9"/>
<circle cx="34.28" cy="342.9" r="1.1" fill="url(#gH)"/>
<line x1="39.3" y1="338.74" x2="37.84" y2="335.85" stroke="#888" stroke-width="0.9"/>
<circle cx="37.84" cy="335.85" r="1.1" fill="url(#gH)"/>
<line x1="43.5" y1="338.74" x2="44.96" y2="335.85" stroke="#888" stroke-width="0.9"/>
<circle cx="44.96" cy="335.85" r="1.1" fill="url(#gH)"/>
<line x1="45.6" y1="342.9" x2="43.5" y2="347.06" stroke="#3a3a3a" stroke-width="1.7"/>
<line x1="43.5" y1="347.06" x2="39.3" y2="347.06" stroke="#3a3a3a" stroke-width="1.7"/>
<line x1="39.3" y1="347.06" x2="37.2" y2="342.9" stroke="#3a3a3a" stroke-width="1.7"/>
<line x1="37.2" y1="342.9" x2="39.3" y2="338.74" stroke="#3a3a3a" stroke-width="1.7"/>
<line x1="39.3" y1="338.74" x2="43.5" y2="338.74" stroke="#3a3a3a" stroke-width="1.7"/>
<line x1="43.5" y1="338.74" x2="45.6" y2="342.9" stroke="#3a3a3a" stroke-width="1.7"/>
<line x1="45.6" y1="342.9" x2="48.2" y2="339.4" stroke="#822" stroke-width="1.3"/>
<line x1="43.5" y1="347.06" x2="50" y2="347.6" stroke="#822" stroke-width="1.3"/>
<circle cx="45.6" cy="342.9" r="1.85" fill="url(#gC)"/>
<circle cx="43.5" cy="347.06" r="1.85" fill="url(#gC)"/>
<circle cx="39.3" cy="347.06" r="1.85" fill="url(#gC)"/>
<circle cx="37.2" cy="342.9" r="1.85" fill="url(#gC)"/>
<circle cx="39.3" cy="338.74" r="1.85" fill="url(#gC)"/>
<circle cx="43.5" cy="338.74" r="1.85" fill="url(#gC)"/>
<circle cx="48.2" cy="339.4" r="1.9" fill="url(#gO)"/>
<circle cx="50" cy="347.6" r="1.9" fill="url(#gO)"/>
<line x1="69.2" y1="341.8" x2="72.53" y2="341.8" stroke="#888" stroke-width="0.9"/>
<circle cx="72.53" cy="341.8" r="1.1" fill="url(#gH)"/>
<line x1="66.7" y1="346.13" x2="68.37" y2="349.02" stroke="#888" stroke-width="0.9"/>
<circle cx="68.37" cy="349.02" r="1.1" fill="url(#gH)"/>
<line x1="61.7" y1="346.13" x2="60.03" y2="349.02" stroke="#888" stroke-width="0.9"/>
<circle cx="60.03" cy="349.02" r="1.1" fill="url(#gH)"/>
<line x1="66.7" y1="337.47" x2="68.37" y2="334.58" stroke="#888" stroke-width="0.9"/>
<circle cx="68.37" cy="334.58" r="1.1" fill="url(#gH)"/>
<line x1="69.2" y1="341.8" x2="66.7" y2="346.13" stroke="#3a3a3a" stroke-width="1.7"/>
<line x1="66.7" y1="346.13" x2="61.7" y2="346.13" stroke="#3a3a3a" stroke-width="1.7"/>
<line x1="61.7" y1="346.13" x2="59.2" y2="341.8" stroke="#3a3a3a" stroke-width="1.7"/>
<line x1="59.2" y1="341.8" x2="61.7" y2="337.47" stroke="#3a3a3a" stroke-width="1.7"/>
<line x1="61.7" y1="337.47" x2="66.7" y2="337.47" stroke="#3a3a3a" stroke-width="1.7"/>
<line x1="66.7" y1="337.47" x2="69.2" y2="341.8" stroke="#3a3a3a" stroke-width="1.7"/>
<line x1="61.7" y1="337.47" x2="56.5" y2="337" stroke="#822" stroke-width="1.3"/>
<line x1="59.2" y1="341.8" x2="55.9" y2="345" stroke="#822" stroke-width="1.3"/>
<circle cx="69.2" cy="341.8" r="1.85" fill="url(#gC)"/>
<circle cx="66.7" cy="346.13" r="1.85" fill="url(#gC)"/>
<circle cx="61.7" cy="346.13" r="1.85" fill="url(#gC)"/>
<circle cx="59.2" cy="341.8" r="1.85" fill="url(#gC)"/>
<circle cx="61.7" cy="337.47" r="1.85" fill="url(#gC)"/>
<circle cx="66.7" cy="337.47" r="1.85" fill="url(#gC)"/>
<circle cx="56.5" cy="337" r="1.9" fill="url(#gO)"/>
<circle cx="55.9" cy="345" r="1.9" fill="url(#gO)"/>
<circle cx="53.6" cy="336" r="0.9" fill="url(#gH)"/>
<circle cx="56.5" cy="348.2" r="0.9" fill="url(#gH)"/>
<ellipse cx="43.4" cy="361.6" rx="4.6" ry="8.8" fill="url(#bBt)" opacity="0.95" transform="rotate(0 43.4 361.6)"/>
<ellipse cx="53" cy="363" rx="2.8" ry="6" fill="url(#bBt)" opacity="0.9" transform="rotate(0 53 363)"/>
<ellipse cx="50.4" cy="361.4" rx="3.8" ry="8.4" fill="url(#bR)" opacity="0.8" transform="rotate(0 50.4 361.4)"/>
<ellipse cx="50" cy="353.6" rx="2.1" ry="2.1" fill="url(#bB)" opacity="0.9" transform="rotate(0 50 353.6)"/>
<ellipse cx="53.8" cy="356.3" rx="1.6" ry="1.6" fill="url(#bRt)" opacity="0.9" transform="rotate(0 53.8 356.3)"/>
<ellipse cx="44" cy="360" rx="2" ry="5" fill="url(#bB)" opacity="0.45" transform="rotate(0 44 360)"/>
<ellipse cx="52.5" cy="366" rx="1.8" ry="3" fill="url(#bB)" opacity="0.5" transform="rotate(0 52.5 366)"/>
<line x1="110.2" y1="229.3" x2="110.2" y2="232.63" stroke="#888" stroke-width="0.9"/>
<circle cx="110.2" cy="232.63" r="1.1" fill="url(#gH)"/>
<line x1="106.04" y1="226.9" x2="103.15" y2="228.57" stroke="#888" stroke-width="0.9"/>
<circle cx="103.15" cy="228.57" r="1.1" fill="url(#gH)"/>
<line x1="106.04" y1="222.1" x2="103.15" y2="220.43" stroke="#888" stroke-width="0.9"/>
<circle cx="103.15" cy="220.43" r="1.1" fill="url(#gH)"/>
<line x1="110.2" y1="219.7" x2="110.2" y2="216.37" stroke="#888" stroke-width="0.9"/>
<circle cx="110.2" cy="216.37" r="1.1" fill="url(#gH)"/>
<line x1="114.36" y1="222.1" x2="117.25" y2="220.43" stroke="#888" stroke-width="0.9"/>
<circle cx="117.25" cy="220.43" r="1.1" fill="url(#gH)"/>
<line x1="114.36" y1="226.9" x2="110.2" y2="229.3" stroke="#3a3a3a" stroke-width="1.7"/>
<line x1="110.2" y1="229.3" x2="106.04" y2="226.9" stroke="#3a3a3a" stroke-width="1.7"/>
<line x1="106.04" y1="226.9" x2="106.04" y2="222.1" stroke="#3a3a3a" stroke-width="1.7"/>
<line x1="106.04" y1="222.1" x2="110.2" y2="219.7" stroke="#3a3a3a" stroke-width="1.7"/>
<line x1="110.2" y1="219.7" x2="114.36" y2="222.1" stroke="#3a3a3a" stroke-width="1.7"/>
<line x1="114.36" y1="222.1" x2="114.36" y2="226.9" stroke="#3a3a3a" stroke-width="1.7"/>
<circle cx="114.36" cy="226.9" r="1.85" fill="url(#gC)"/>
<circle cx="110.2" cy="229.3" r="1.85" fill="url(#gC)"/>
<circle cx="106.04" cy="226.9" r="1.85" fill="url(#gC)"/>
<circle cx="106.04" cy="222.1" r="1.85" fill="url(#gC)"/>
<circle cx="110.2" cy="219.7" r="1.85" fill="url(#gC)"/>
<circle cx="114.36" cy="222.1" r="1.85" fill="url(#gC)"/>
<circle cx="110.2" cy="219.7" r="1.8" fill="url(#gN)"/>
<circle cx="110.2" cy="229.3" r="1.8" fill="url(#gN)"/>
<circle cx="106" cy="222.1" r="1.8" fill="url(#gO)"/>
<circle cx="106" cy="226.9" r="1.8" fill="url(#gO)"/>
<line x1="138.36" y1="227.1" x2="141.25" y2="228.77" stroke="#888" stroke-width="0.9"/>
<circle cx="141.25" cy="228.77" r="1.1" fill="url(#gH)"/>
<line x1="134.2" y1="229.5" x2="134.2" y2="232.83" stroke="#888" stroke-width="0.9"/>
<circle cx="134.2" cy="232.83" r="1.1" fill="url(#gH)"/>
<line x1="130.04" y1="227.1" x2="127.15" y2="228.77" stroke="#888" stroke-width="0.9"/>
<circle cx="127.15" cy="228.77" r="1.1" fill="url(#gH)"/>
<line x1="134.2" y1="219.9" x2="134.2" y2="216.56" stroke="#888" stroke-width="0.9"/>
<circle cx="134.2" cy="216.56" r="1.1" fill="url(#gH)"/>
<line x1="138.36" y1="222.3" x2="141.25" y2="220.63" stroke="#888" stroke-width="0.9"/>
<circle cx="141.25" cy="220.63" r="1.1" fill="url(#gH)"/>
<line x1="138.36" y1="227.1" x2="134.2" y2="229.5" stroke="#3a3a3a" stroke-width="1.7"/>
<line x1="134.2" y1="229.5" x2="130.04" y2="227.1" stroke="#3a3a3a" stroke-width="1.7"/>
<line x1="130.04" y1="227.1" x2="130.04" y2="222.3" stroke="#3a3a3a" stroke-width="1.7"/>
<line x1="130.04" y1="222.3" x2="134.2" y2="219.9" stroke="#3a3a3a" stroke-width="1.7"/>
<line x1="134.2" y1="219.9" x2="138.36" y2="222.3" stroke="#3a3a3a" stroke-width="1.7"/>
<line x1="138.36" y1="222.3" x2="138.36" y2="227.1" stroke="#3a3a3a" stroke-width="1.7"/>
<circle cx="138.36" cy="227.1" r="1.85" fill="url(#gC)"/>
<circle cx="134.2" cy="229.5" r="1.85" fill="url(#gC)"/>
<circle cx="130.04" cy="227.1" r="1.85" fill="url(#gC)"/>
<circle cx="130.04" cy="222.3" r="1.85" fill="url(#gC)"/>
<circle cx="134.2" cy="219.9" r="1.85" fill="url(#gC)"/>
<circle cx="138.36" cy="222.3" r="1.85" fill="url(#gC)"/>
<circle cx="138.4" cy="227.1" r="1.8" fill="url(#gN)"/>
<circle cx="134.2" cy="219.9" r="1.8" fill="url(#gO)"/>
<circle cx="130" cy="222.3" r="1.8" fill="url(#gO)"/>
<circle cx="138.4" cy="222.3" r="1.6" fill="url(#gC)"/>
<ellipse cx="123.5" cy="224.5" rx="6" ry="5.2" fill="url(#bB)" opacity="1" transform="rotate(0 123.5 224.5)"/>
<ellipse cx="118.5" cy="220.3" rx="2" ry="2" fill="url(#bB)" opacity="1" transform="rotate(0 118.5 220.3)"/>
<ellipse cx="125.6" cy="220.3" rx="2.1" ry="2.1" fill="url(#bB)" opacity="1" transform="rotate(0 125.6 220.3)"/>
<ellipse cx="128.8" cy="228" rx="2.2" ry="2.2" fill="url(#bB)" opacity="1" transform="rotate(0 128.8 228)"/>
<ellipse cx="121.7" cy="223.8" rx="2" ry="2" fill="url(#bB)" opacity="1" transform="rotate(0 121.7 223.8)"/>
<ellipse cx="121.1" cy="219.6" rx="2.6" ry="2.6" fill="url(#bR)" opacity="1" transform="rotate(0 121.1 219.6)"/>
<ellipse cx="119.2" cy="228.6" rx="2.5" ry="2.5" fill="url(#bR)" opacity="1" transform="rotate(0 119.2 228.6)"/>
<ellipse cx="126.2" cy="228" rx="2.3" ry="2.8" fill="url(#bR)" opacity="1" transform="rotate(0 126.2 228)"/>
<ellipse cx="124.8" cy="224" rx="1.6" ry="2.2" fill="url(#bR)" opacity="0.9" transform="rotate(0 124.8 224)"/>
<line x1="129.5" y1="245.6" x2="132.46" y2="245.6" stroke="#888" stroke-width="0.9"/>
<circle cx="132.46" cy="245.6" r="1.1" fill="url(#gH)"/>
<line x1="126.75" y1="250.97" x2="128.23" y2="253.86" stroke="#888" stroke-width="0.9"/>
<circle cx="128.23" cy="253.86" r="1.1" fill="url(#gH)"/>
<line x1="121.25" y1="250.97" x2="119.77" y2="253.86" stroke="#888" stroke-width="0.9"/>
<circle cx="119.77" cy="253.86" r="1.1" fill="url(#gH)"/>
<line x1="118.5" y1="245.6" x2="115.54" y2="245.6" stroke="#888" stroke-width="0.9"/>
<circle cx="115.54" cy="245.6" r="1.1" fill="url(#gH)"/>
<line x1="129.5" y1="245.6" x2="126.75" y2="250.97" stroke="#3a3a3a" stroke-width="1.7"/>
<line x1="126.75" y1="250.97" x2="121.25" y2="250.97" stroke="#3a3a3a" stroke-width="1.7"/>
<line x1="121.25" y1="250.97" x2="118.5" y2="245.6" stroke="#3a3a3a" stroke-width="1.7"/>
<line x1="118.5" y1="245.6" x2="121.25" y2="240.23" stroke="#3a3a3a" stroke-width="1.7"/>
<line x1="121.25" y1="240.23" x2="126.75" y2="240.23" stroke="#3a3a3a" stroke-width="1.7"/>
<line x1="126.75" y1="240.23" x2="129.5" y2="245.6" stroke="#3a3a3a" stroke-width="1.7"/>
<line x1="121.25" y1="240.23" x2="121" y2="236.6" stroke="#822" stroke-width="1.3"/>
<line x1="126.75" y1="240.23" x2="127.2" y2="236.2" stroke="#822" stroke-width="1.3"/>
<circle cx="129.5" cy="245.6" r="1.85" fill="url(#gC)"/>
<circle cx="126.75" cy="250.97" r="1.85" fill="url(#gC)"/>
<circle cx="121.25" cy="250.97" r="1.85" fill="url(#gC)"/>
<circle cx="118.5" cy="245.6" r="1.85" fill="url(#gC)"/>
<circle cx="121.25" cy="240.23" r="1.85" fill="url(#gC)"/>
<circle cx="126.75" cy="240.23" r="1.85" fill="url(#gC)"/>
<circle cx="121" cy="236.6" r="1.9" fill="url(#gO)"/>
<circle cx="127.2" cy="236.2" r="1.9" fill="url(#gO)"/>
<circle cx="118.8" cy="234.6" r="0.9" fill="url(#gH)"/>
<circle cx="129.4" cy="234.2" r="0.9" fill="url(#gH)"/>
<line x1="114.85" y1="343.04" x2="116.52" y2="345.93" stroke="#888" stroke-width="0.9"/>
<circle cx="116.52" cy="345.93" r="1.1" fill="url(#gH)"/>
<line x1="109.95" y1="343.04" x2="108.28" y2="345.93" stroke="#888" stroke-width="0.9"/>
<circle cx="108.28" cy="345.93" r="1.1" fill="url(#gH)"/>
<line x1="107.5" y1="338.8" x2="104.17" y2="338.8" stroke="#888" stroke-width="0.9"/>
<circle cx="104.17" cy="338.8" r="1.1" fill="url(#gH)"/>
<line x1="109.95" y1="334.56" x2="108.28" y2="331.67" stroke="#888" stroke-width="0.9"/>
<circle cx="108.28" cy="331.67" r="1.1" fill="url(#gH)"/>
<line x1="114.85" y1="334.56" x2="116.52" y2="331.67" stroke="#888" stroke-width="0.9"/>
<circle cx="116.52" cy="331.67" r="1.1" fill="url(#gH)"/>
<line x1="117.3" y1="338.8" x2="114.85" y2="343.04" stroke="#3a3a3a" stroke-width="1.7"/>
<line x1="114.85" y1="343.04" x2="109.95" y2="343.04" stroke="#3a3a3a" stroke-width="1.7"/>
<line x1="109.95" y1="343.04" x2="107.5" y2="338.8" stroke="#3a3a3a" stroke-width="1.7"/>
<line x1="107.5" y1="338.8" x2="109.95" y2="334.56" stroke="#3a3a3a" stroke-width="1.7"/>
<line x1="109.95" y1="334.56" x2="114.85" y2="334.56" stroke="#3a3a3a" stroke-width="1.7"/>
<line x1="114.85" y1="334.56" x2="117.3" y2="338.8" stroke="#3a3a3a" stroke-width="1.7"/>
<line x1="117.3" y1="338.8" x2="121" y2="343" stroke="#822" stroke-width="1.3"/>
<circle cx="117.3" cy="338.8" r="1.85" fill="url(#gC)"/>
<circle cx="114.85" cy="343.04" r="1.85" fill="url(#gC)"/>
<circle cx="109.95" cy="343.04" r="1.85" fill="url(#gC)"/>
<circle cx="107.5" cy="338.8" r="1.85" fill="url(#gC)"/>
<circle cx="109.95" cy="334.56" r="1.85" fill="url(#gC)"/>
<circle cx="114.85" cy="334.56" r="1.85" fill="url(#gC)"/>
<circle cx="121" cy="343" r="1.9" fill="url(#gO)"/>
<line x1="140.6" y1="338.8" x2="143.94" y2="338.8" stroke="#888" stroke-width="0.9"/>
<circle cx="143.94" cy="338.8" r="1.1" fill="url(#gH)"/>
<line x1="138.15" y1="343.04" x2="139.82" y2="345.93" stroke="#888" stroke-width="0.9"/>
<circle cx="139.82" cy="345.93" r="1.1" fill="url(#gH)"/>
<line x1="133.25" y1="343.04" x2="131.58" y2="345.93" stroke="#888" stroke-width="0.9"/>
<circle cx="131.58" cy="345.93" r="1.1" fill="url(#gH)"/>
<line x1="133.25" y1="334.56" x2="131.58" y2="331.67" stroke="#888" stroke-width="0.9"/>
<circle cx="131.58" cy="331.67" r="1.1" fill="url(#gH)"/>
<line x1="138.15" y1="334.56" x2="139.82" y2="331.67" stroke="#888" stroke-width="0.9"/>
<circle cx="139.82" cy="331.67" r="1.1" fill="url(#gH)"/>
<line x1="140.6" y1="338.8" x2="138.15" y2="343.04" stroke="#3a3a3a" stroke-width="1.7"/>
<line x1="138.15" y1="343.04" x2="133.25" y2="343.04" stroke="#3a3a3a" stroke-width="1.7"/>
<line x1="133.25" y1="343.04" x2="130.8" y2="338.8" stroke="#3a3a3a" stroke-width="1.7"/>
<line x1="130.8" y1="338.8" x2="133.25" y2="334.56" stroke="#3a3a3a" stroke-width="1.7"/>
<line x1="133.25" y1="334.56" x2="138.15" y2="334.56" stroke="#3a3a3a" stroke-width="1.7"/>
<line x1="138.15" y1="334.56" x2="140.6" y2="338.8" stroke="#3a3a3a" stroke-width="1.7"/>
<line x1="130.8" y1="338.8" x2="130.1" y2="341.8" stroke="#822" stroke-width="1.3"/>
<circle cx="140.6" cy="338.8" r="1.85" fill="url(#gC)"/>
<circle cx="138.15" cy="343.04" r="1.85" fill="url(#gC)"/>
<circle cx="133.25" cy="343.04" r="1.85" fill="url(#gC)"/>
<circle cx="130.8" cy="338.8" r="1.85" fill="url(#gC)"/>
<circle cx="133.25" cy="334.56" r="1.85" fill="url(#gC)"/>
<circle cx="138.15" cy="334.56" r="1.85" fill="url(#gC)"/>
<circle cx="130.1" cy="341.8" r="1.9" fill="url(#gO)"/>
<line x1="122.3" y1="334" x2="124.7" y2="338.2" stroke="#c86" stroke-width="0.8"/>
<line x1="126.5" y1="334.6" x2="124.7" y2="338.2" stroke="#c86" stroke-width="0.8"/>
<line x1="121" y1="343" x2="124.7" y2="338.2" stroke="#c86" stroke-width="0.8"/>
<line x1="130.1" y1="341.8" x2="124.7" y2="338.2" stroke="#c86" stroke-width="0.8"/>
<circle cx="122.3" cy="334" r="1.6" fill="url(#gO)"/>
<circle cx="126.5" cy="334.6" r="1.6" fill="url(#gO)"/>
<circle cx="121" cy="343" r="1.6" fill="url(#gO)"/>
<circle cx="130.1" cy="341.8" r="1.6" fill="url(#gO)"/>
<circle cx="124.7" cy="338.2" r="1.7" fill="url(#gAg)"/>
<ellipse cx="126.5" cy="351.8" rx="7" ry="5" fill="url(#bB)" opacity="1" transform="rotate(0 126.5 351.8)"/>
<ellipse cx="124.5" cy="350.5" rx="2.2" ry="2.2" fill="url(#bR)" opacity="0.9" transform="rotate(0 124.5 350.5)"/>
<ellipse cx="126.5" cy="358.4" rx="6.6" ry="5.4" fill="url(#bR)" opacity="1" transform="rotate(0 126.5 358.4)"/>
<ellipse cx="126.5" cy="364.3" rx="7" ry="4.4" fill="url(#bB)" opacity="1" transform="rotate(0 126.5 364.3)"/>
<ellipse cx="131.5" cy="362" rx="1.8" ry="1.8" fill="url(#bR)" opacity="0.9" transform="rotate(0 131.5 362)"/>
<ellipse cx="179.5" cy="236.8" rx="3.3" ry="5.4" fill="url(#bR)" opacity="1" transform="rotate(0 179.5 236.8)"/>
<path d="M181.2,231.0 L184.4,229.0 Q197.2,236.8 184.4,244.6 L181.2,242.6 Q191.0,236.8 181.2,231.0Z" fill="url(#bB)"/>
<ellipse cx="193" cy="232.6" rx="2.9" ry="2.9" fill="url(#bR)" opacity="1" transform="rotate(0 193 232.6)"/>
<ellipse cx="192.6" cy="241.8" rx="2.9" ry="2.9" fill="url(#bR)" opacity="1" transform="rotate(0 192.6 241.8)"/>
<ellipse cx="196.8" cy="237.6" rx="2.5" ry="1.7" fill="url(#bR)" opacity="1" transform="rotate(0 196.8 237.6)"/>
<ellipse cx="196" cy="237.4" rx="1.2" ry="1.2" fill="url(#bB)" opacity="1" transform="rotate(0 196 237.4)"/>
<ellipse cx="202" cy="233.2" rx="2.7" ry="2.7" fill="url(#bB)" opacity="1" transform="rotate(0 202 233.2)"/>
<ellipse cx="201.6" cy="242.2" rx="2.7" ry="2.7" fill="url(#bB)" opacity="1" transform="rotate(0 201.6 242.2)"/>
<path d="M213.8,232.0 L210.6,230.0 Q197.8,237.8 210.6,245.6 L213.8,243.6 Q204.0,237.8 213.8,232.0Z" fill="url(#bR)"/>
<ellipse cx="214.3" cy="238.5" rx="3.2" ry="5.3" fill="url(#bB)" opacity="1" transform="rotate(0 214.3 238.5)"/>
<circle cx="176.5" cy="230.5" r="0.8" fill="url(#gH)"/>
<circle cx="176.5" cy="243.5" r="0.8" fill="url(#gH)"/>
<circle cx="184" cy="228.5" r="0.8" fill="url(#gH)"/>
<circle cx="184" cy="245.5" r="0.8" fill="url(#gH)"/>
<circle cx="209.5" cy="230" r="0.8" fill="url(#gH)"/>
<circle cx="209.5" cy="246.5" r="0.8" fill="url(#gH)"/>
<circle cx="216.5" cy="232" r="0.8" fill="url(#gH)"/>
<circle cx="216.5" cy="244.8" r="0.8" fill="url(#gH)"/>
<line x1="178.6" y1="261.1" x2="181.4" y2="253.1" stroke="#cc8" stroke-width="0.9"/>
<line x1="178.6" y1="261.1" x2="173.4" y2="259.7" stroke="#cc8" stroke-width="0.9"/>
<circle cx="181.4" cy="253.1" r="2.2" fill="url(#gL)"/>
<circle cx="173.4" cy="259.7" r="2.2" fill="url(#gL)"/>
<circle cx="178.6" cy="261.1" r="1.7" fill="url(#gS)"/>
<line x1="202.6" y1="259.4" x2="205.94" y2="259.4" stroke="#888" stroke-width="0.9"/>
<circle cx="205.94" cy="259.4" r="1.1" fill="url(#gH)"/>
<line x1="200.1" y1="263.73" x2="201.77" y2="266.62" stroke="#888" stroke-width="0.9"/>
<circle cx="201.77" cy="266.62" r="1.1" fill="url(#gH)"/>
<line x1="195.1" y1="263.73" x2="193.43" y2="266.62" stroke="#888" stroke-width="0.9"/>
<circle cx="193.43" cy="266.62" r="1.1" fill="url(#gH)"/>
<line x1="192.6" y1="259.4" x2="189.26" y2="259.4" stroke="#888" stroke-width="0.9"/>
<circle cx="189.26" cy="259.4" r="1.1" fill="url(#gH)"/>
<line x1="202.6" y1="259.4" x2="200.1" y2="263.73" stroke="#3a3a3a" stroke-width="1.7"/>
<line x1="200.1" y1="263.73" x2="195.1" y2="263.73" stroke="#3a3a3a" stroke-width="1.7"/>
<line x1="195.1" y1="263.73" x2="192.6" y2="259.4" stroke="#3a3a3a" stroke-width="1.7"/>
<line x1="192.6" y1="259.4" x2="195.1" y2="255.07" stroke="#3a3a3a" stroke-width="1.7"/>
<line x1="195.1" y1="255.07" x2="200.1" y2="255.07" stroke="#3a3a3a" stroke-width="1.7"/>
<line x1="200.1" y1="255.07" x2="202.6" y2="259.4" stroke="#3a3a3a" stroke-width="1.7"/>
<line x1="195.1" y1="255.07" x2="192.6" y2="251.7" stroke="#822" stroke-width="1.3"/>
<line x1="200.1" y1="255.07" x2="202.5" y2="251.2" stroke="#822" stroke-width="1.3"/>
<circle cx="202.6" cy="259.4" r="1.85" fill="url(#gC)"/>
<circle cx="200.1" cy="263.73" r="1.85" fill="url(#gC)"/>
<circle cx="195.1" cy="263.73" r="1.85" fill="url(#gC)"/>
<circle cx="192.6" cy="259.4" r="1.85" fill="url(#gC)"/>
<circle cx="195.1" cy="255.07" r="1.85" fill="url(#gC)"/>
<circle cx="200.1" cy="255.07" r="1.85" fill="url(#gC)"/>
<circle cx="192.6" cy="251.7" r="1.9" fill="url(#gO)"/>
<circle cx="202.5" cy="251.2" r="1.9" fill="url(#gO)"/>
<circle cx="190.5" cy="249.5" r="0.9" fill="url(#gH)"/>
<circle cx="205" cy="249" r="0.9" fill="url(#gH)"/>
<line x1="183.8" y1="328.56" x2="182.13" y2="331.45" stroke="#888" stroke-width="0.9"/>
<circle cx="182.13" cy="331.45" r="1.1" fill="url(#gH)"/>
<line x1="181.4" y1="324.4" x2="178.06" y2="324.4" stroke="#888" stroke-width="0.9"/>
<circle cx="178.06" cy="324.4" r="1.1" fill="url(#gH)"/>
<line x1="183.8" y1="320.24" x2="182.13" y2="317.35" stroke="#888" stroke-width="0.9"/>
<circle cx="182.13" cy="317.35" r="1.1" fill="url(#gH)"/>
<line x1="188.6" y1="320.24" x2="190.27" y2="317.35" stroke="#888" stroke-width="0.9"/>
<circle cx="190.27" cy="317.35" r="1.1" fill="url(#gH)"/>
<line x1="191" y1="324.4" x2="188.6" y2="328.56" stroke="#3a3a3a" stroke-width="1.7"/>
<line x1="188.6" y1="328.56" x2="183.8" y2="328.56" stroke="#3a3a3a" stroke-width="1.7"/>
<line x1="183.8" y1="328.56" x2="181.4" y2="324.4" stroke="#3a3a3a" stroke-width="1.7"/>
<line x1="181.4" y1="324.4" x2="183.8" y2="320.24" stroke="#3a3a3a" stroke-width="1.7"/>
<line x1="183.8" y1="320.24" x2="188.6" y2="320.24" stroke="#3a3a3a" stroke-width="1.7"/>
<line x1="188.6" y1="320.24" x2="191" y2="324.4" stroke="#3a3a3a" stroke-width="1.7"/>
<line x1="191" y1="324.4" x2="195.1" y2="320.4" stroke="#822" stroke-width="1.3"/>
<line x1="188.6" y1="328.56" x2="195.1" y2="329.5" stroke="#822" stroke-width="1.3"/>
<circle cx="191" cy="324.4" r="1.85" fill="url(#gC)"/>
<circle cx="188.6" cy="328.56" r="1.85" fill="url(#gC)"/>
<circle cx="183.8" cy="328.56" r="1.85" fill="url(#gC)"/>
<circle cx="181.4" cy="324.4" r="1.85" fill="url(#gC)"/>
<circle cx="183.8" cy="320.24" r="1.85" fill="url(#gC)"/>
<circle cx="188.6" cy="320.24" r="1.85" fill="url(#gC)"/>
<circle cx="195.1" cy="320.4" r="1.9" fill="url(#gO)"/>
<circle cx="195.1" cy="329.5" r="1.9" fill="url(#gO)"/>
<line x1="218.2" y1="325.3" x2="221.53" y2="325.3" stroke="#888" stroke-width="0.9"/>
<circle cx="221.53" cy="325.3" r="1.1" fill="url(#gH)"/>
<line x1="215.8" y1="329.46" x2="217.47" y2="332.35" stroke="#888" stroke-width="0.9"/>
<circle cx="217.47" cy="332.35" r="1.1" fill="url(#gH)"/>
<line x1="211" y1="321.14" x2="209.33" y2="318.25" stroke="#888" stroke-width="0.9"/>
<circle cx="209.33" cy="318.25" r="1.1" fill="url(#gH)"/>
<line x1="215.8" y1="321.14" x2="217.47" y2="318.25" stroke="#888" stroke-width="0.9"/>
<circle cx="217.47" cy="318.25" r="1.1" fill="url(#gH)"/>
<line x1="218.2" y1="325.3" x2="215.8" y2="329.46" stroke="#3a3a3a" stroke-width="1.7"/>
<line x1="215.8" y1="329.46" x2="211" y2="329.46" stroke="#3a3a3a" stroke-width="1.7"/>
<line x1="211" y1="329.46" x2="208.6" y2="325.3" stroke="#3a3a3a" stroke-width="1.7"/>
<line x1="208.6" y1="325.3" x2="211" y2="321.14" stroke="#3a3a3a" stroke-width="1.7"/>
<line x1="211" y1="321.14" x2="215.8" y2="321.14" stroke="#3a3a3a" stroke-width="1.7"/>
<line x1="215.8" y1="321.14" x2="218.2" y2="325.3" stroke="#3a3a3a" stroke-width="1.7"/>
<line x1="208.6" y1="325.3" x2="204.8" y2="321.1" stroke="#822" stroke-width="1.3"/>
<line x1="211" y1="329.46" x2="204.8" y2="330.2" stroke="#822" stroke-width="1.3"/>
<circle cx="218.2" cy="325.3" r="1.85" fill="url(#gC)"/>
<circle cx="215.8" cy="329.46" r="1.85" fill="url(#gC)"/>
<circle cx="211" cy="329.46" r="1.85" fill="url(#gC)"/>
<circle cx="208.6" cy="325.3" r="1.85" fill="url(#gC)"/>
<circle cx="211" cy="321.14" r="1.85" fill="url(#gC)"/>
<circle cx="215.8" cy="321.14" r="1.85" fill="url(#gC)"/>
<circle cx="204.8" cy="321.1" r="1.9" fill="url(#gO)"/>
<circle cx="204.8" cy="330.2" r="1.9" fill="url(#gO)"/>
<line x1="195.1" y1="320.4" x2="199.7" y2="325" stroke="#d86" stroke-width="0.8"/>
<line x1="195.1" y1="329.5" x2="199.7" y2="325" stroke="#d86" stroke-width="0.8"/>
<line x1="204.8" y1="321.1" x2="199.7" y2="325" stroke="#d86" stroke-width="0.8"/>
<line x1="204.8" y1="330.2" x2="199.7" y2="325" stroke="#d86" stroke-width="0.8"/>
<circle cx="195.1" cy="320.4" r="1.6" fill="url(#gO)"/>
<circle cx="195.1" cy="329.5" r="1.6" fill="url(#gO)"/>
<circle cx="204.8" cy="321.1" r="1.6" fill="url(#gO)"/>
<circle cx="204.8" cy="330.2" r="1.6" fill="url(#gO)"/>
<circle cx="199.7" cy="325" r="1.7" fill="url(#gAg)"/>
<ellipse cx="177.3" cy="346.9" rx="4.9" ry="5.7" fill="url(#bR)" opacity="1" transform="rotate(0 177.3 346.9)"/>
<ellipse cx="184" cy="349" rx="5.8" ry="5.9" fill="url(#bB)" opacity="1" transform="rotate(0 184 349)"/>
<ellipse cx="175" cy="346.5" rx="1.5" ry="1.5" fill="url(#bB)" opacity="1" transform="rotate(0 175 346.5)"/>
<ellipse cx="183.3" cy="339.9" rx="1.8" ry="1.8" fill="url(#bB)" opacity="1" transform="rotate(0 183.3 339.9)"/>
<ellipse cx="182.2" cy="341.4" rx="1.3" ry="1.3" fill="url(#bR)" opacity="1" transform="rotate(0 182.2 341.4)"/>
<line x1="205" y1="347.8" x2="208.33" y2="347.8" stroke="#888" stroke-width="0.9"/>
<circle cx="208.33" cy="347.8" r="1.1" fill="url(#gH)"/>
<line x1="202.6" y1="351.96" x2="204.27" y2="354.85" stroke="#888" stroke-width="0.9"/>
<circle cx="204.27" cy="354.85" r="1.1" fill="url(#gH)"/>
<line x1="197.8" y1="351.96" x2="196.13" y2="354.85" stroke="#888" stroke-width="0.9"/>
<circle cx="196.13" cy="354.85" r="1.1" fill="url(#gH)"/>
<line x1="195.4" y1="347.8" x2="192.06" y2="347.8" stroke="#888" stroke-width="0.9"/>
<circle cx="192.06" cy="347.8" r="1.1" fill="url(#gH)"/>
<line x1="205" y1="347.8" x2="202.6" y2="351.96" stroke="#3a3a3a" stroke-width="1.7"/>
<line x1="202.6" y1="351.96" x2="197.8" y2="351.96" stroke="#3a3a3a" stroke-width="1.7"/>
<line x1="197.8" y1="351.96" x2="195.4" y2="347.8" stroke="#3a3a3a" stroke-width="1.7"/>
<line x1="195.4" y1="347.8" x2="197.8" y2="343.64" stroke="#3a3a3a" stroke-width="1.7"/>
<line x1="197.8" y1="343.64" x2="202.6" y2="343.64" stroke="#3a3a3a" stroke-width="1.7"/>
<line x1="202.6" y1="343.64" x2="205" y2="347.8" stroke="#3a3a3a" stroke-width="1.7"/>
<line x1="197.8" y1="343.64" x2="195.8" y2="339.2" stroke="#822" stroke-width="1.3"/>
<line x1="202.6" y1="343.64" x2="205.3" y2="338.8" stroke="#822" stroke-width="1.3"/>
<circle cx="205" cy="347.8" r="1.85" fill="url(#gC)"/>
<circle cx="202.6" cy="351.96" r="1.85" fill="url(#gC)"/>
<circle cx="197.8" cy="351.96" r="1.85" fill="url(#gC)"/>
<circle cx="195.4" cy="347.8" r="1.85" fill="url(#gC)"/>
<circle cx="197.8" cy="343.64" r="1.85" fill="url(#gC)"/>
<circle cx="202.6" cy="343.64" r="1.85" fill="url(#gC)"/>
<circle cx="195.8" cy="339.2" r="1.9" fill="url(#gO)"/>
<circle cx="205.3" cy="338.8" r="1.9" fill="url(#gO)"/>
<circle cx="193.5" cy="337.5" r="0.9" fill="url(#gH)"/>
<circle cx="207.5" cy="337" r="0.9" fill="url(#gH)"/>
<text x="240.8" y="200.3" font-size="15.7" text-anchor="start" fill="#000" font-weight="bold" font-style="normal">e</text>
<g clip-path="url(#ce)">
<line x1="267.5" y1="266.2" x2="448.1" y2="266.2" stroke="#aaa" stroke-width="1"/>
<polyline points="267.7,234.37 268.3,234.75 268.9,234.77 269.5,234.73 270.1,234.46 270.7,234.24 271.3,234.25 271.9,234.28 272.5,234.77 273.1,234.44 273.7,234.19 274.3,233.63 274.9,234.21 275.5,234.52 276.1,234.49 276.7,234.63 277.3,234.85 277.9,235.35 278.5,235.07 279.1,234.43 279.7,233.93 280.3,233.87 280.9,233.8 281.5,233.96 282.1,233.75 282.7,233.74 283.3,233.98 283.9,234.17 284.5,234.84 285.1,234.91 285.7,235.09 286.3,234.84 286.9,234.98 287.5,234.85 288.1,234.69 288.7,234.97 289.3,235.41 289.9,235.87 290.5,235.64 291.1,235.09 291.7,234.6 292.3,234.26 292.9,234.06 293.5,234.48 294.1,234.56 294.7,235.17 295.3,234.85 295.9,235.28 296.5,235.27 297.1,234.94 297.7,234.33 298.3,234.36 298.9,234.71 299.5,235.31 300.1,234.87 300.7,234.52 301.3,234.19 301.9,234.43 302.5,234.5 303.1,233.99 303.7,233.56 304.3,234.09 304.9,234.67 305.5,234.63 306.1,234.28 306.7,234.01 307.3,234.19 307.9,234.76 308.5,234.79 309.1,234.99 309.7,234.41 310.3,234.09 310.9,233.92 311.5,233.47 312.1,233.89 312.7,233.93 313.3,234.69 313.9,234.42 314.5,234.28 315.1,234.3 315.7,234.29 316.3,233.8 316.9,233.24 317.5,232.33 318.1,232.06 318.7,231.87 319.3,232.39 319.9,232.69 320.5,233.63 321.1,234.22 321.7,235.08 322.3,235.77 322.9,236.76 323.5,237.06 324.1,235.95 324.7,234.2 325.3,232.41 325.9,230.64 326.5,229.65 327.1,228.85 327.7,229.37 328.3,230.88 328.9,232.65 329.5,234.7 330.1,236.67 330.7,238.42 331.3,239.85 331.9,241.13 332.5,241.97 333.1,241.28 333.7,239 334.3,236.76 334.9,235.67 335.5,235.1 336.1,235.32 336.7,235.4 337.3,235.43 337.9,234.2 338.5,232.39 339.1,230.67 339.7,229.91 340.3,229.09 340.9,229.08 341.5,228.56 342.1,230.08 342.7,231.92 343.3,234.38 343.9,236.38 344.5,238.68 345.1,240.04 345.7,240.68 346.3,240.45 346.9,240.49 347.5,239.97 348.1,238.74 348.7,237.71 349.3,236.31 349.9,235.19 350.5,234.47 351.1,237.75 351.7,236.25 352.3,232.59 352.9,228.67 353.5,225.76 354.1,223.98 354.7,224.75 355.3,227.94 355.9,231.82 356.5,235.2 357.1,238.77 357.7,242.09 358.3,244.65 358.9,245.85 359.5,245.17 360.1,243.84 360.7,241.59 361.3,239.39 361.9,236.55 362.5,236.67 363.1,237.91 363.7,238.21 364.3,236.52 364.9,235.07 365.5,232.66 366.1,231.2 366.7,229.76 367.3,229.79 367.9,230.26 368.5,231.47 369.1,233.34 369.7,235.79 370.3,238.01 370.9,240.41 371.5,242.64 372.1,244.77 372.7,245.18 373.3,244.34 373.9,242.38 374.5,239.92 375.1,237.68 375.7,237.05 376.3,238.71 376.9,240.04 377.5,239.27 378.1,237.27 378.7,234.88 379.3,232.69 379.9,230.13 380.5,227.59 381.1,226.74 381.7,228.04 382.3,231.7 382.9,236.32 383.5,239.51 384.1,243.17 384.7,246.07 385.3,249.38 385.9,250.71 386.5,250.14 387.1,247.25 387.7,243.24 388.3,239.7 388.9,237.51 389.5,236.65 390.1,236.48 390.7,236.52 391.3,236.89 391.9,236.34 392.5,235.21 393.1,234.37 393.7,234.02 394.3,234.11 394.9,234.78 395.5,235.73 396.1,237.45 396.7,238.54 397.3,240.14 397.9,241.85 398.5,244.27 399.1,246.06 399.7,246.24 400.3,245.48 400.9,243.97 401.5,242.44 402.1,240.99 402.7,240.28 403.3,240.33 403.9,240.4 404.5,239.91 405.1,238.36 405.7,236.63 406.3,234.92 406.9,233.71 407.5,232.8 408.1,232.32 408.7,233.14 409.3,234.92 409.9,237.05 410.5,239.22 411.1,241.73 411.7,244.27 412.3,245.31 412.9,244.95 413.5,244.34 414.1,242.6 414.7,241.14 415.3,238.92 415.9,237.48 416.5,236.54 417.1,235.85 417.7,236 418.3,236.35 418.9,237.12 419.5,238.41 420.1,238.77 420.7,239.3 421.3,239.15 421.9,239.94 422.5,240.62 423.1,241.47 423.7,241.76 424.3,242.17 424.9,242.28 425.5,241.78 426.1,240.52 426.7,239.44 427.3,238.56 427.9,238.16 428.5,238.08 429.1,238.51 429.7,238.7 430.3,238.63 430.9,238.44 431.5,238.97 432.1,239.29 432.7,239.62 433.3,239.79 433.9,239.78 434.5,240 435.1,240.17 435.7,239.92 436.3,240 436.9,239.78 437.5,239.72 438.1,239.23 438.7,239.05 439.3,239.58 439.9,239.45 440.5,239.37 441.1,239.36 441.7,239.74 442.3,240.11 442.9,239.87 443.5,239.86 444.1,239.38 444.7,239.71 445.3,239.98 445.9,240.46 446.5,240.59 447.1,240.25 447.7,240.59 448.3,240.87" fill="none" stroke="#ff0000" stroke-width="1.3" stroke-linejoin="round" stroke-linecap="round"/>
<polyline points="267.7,257.46 268.3,257.56 268.9,257.39 269.5,257.05 270.1,256.89 270.7,256.97 271.3,257.4 271.9,257.57 272.5,257.75 273.1,257.62 273.7,257.61 274.3,257.37 274.9,257.31 275.5,257.05 276.1,257.46 276.7,257.26 277.3,257.62 277.9,257.18 278.5,257.52 279.1,257.27 279.7,257.44 280.3,257.53 280.9,257.37 281.5,257.19 282.1,257.23 282.7,257.49 283.3,257.51 283.9,257.55 284.5,257.79 285.1,257.8 285.7,257.51 286.3,257.08 286.9,257.18 287.5,257.29 288.1,257.31 288.7,257.52 289.3,257.21 289.9,257.22 290.5,257.28 291.1,257.47 291.7,257.6 292.3,257.48 292.9,257.52 293.5,257.51 294.1,257.2 294.7,257.33 295.3,257.64 295.9,258.15 296.5,258.11 297.1,257.78 297.7,257.45 298.3,257.46 298.9,257.63 299.5,257.49 300.1,257.24 300.7,257.07 301.3,257.28 301.9,257.58 302.5,257.65 303.1,257.38 303.7,257.38 304.3,257.34 304.9,257.6 305.5,257.27 306.1,257.26 306.7,257.18 307.3,257.47 307.9,257.29 308.5,257.37 309.1,257.04 309.7,257.35 310.3,257.07 310.9,257.11 311.5,256.91 312.1,257.22 312.7,257.1 313.3,257.15 313.9,256.91 314.5,257.02 315.1,257.02 315.7,257.41 316.3,257.51 316.9,257.75 317.5,257.32 318.1,257.55 318.7,257.22 319.3,257.22 319.9,257.12 320.5,257.4 321.1,257.29 321.7,257.02 322.3,256.94 322.9,257.1 323.5,257.08 324.1,256.66 324.7,256.49 325.3,256.68 325.9,257.19 326.5,257.68 327.1,257.61 327.7,257.09 328.3,256.71 328.9,256.85 329.5,257.27 330.1,257.43 330.7,257.12 331.3,256.94 331.9,256.84 332.5,257.04 333.1,256.89 333.7,257.12 334.3,257.25 334.9,257.19 335.5,256.82 336.1,256.8 336.7,256.85 337.3,257.18 337.9,256.98 338.5,257.18 339.1,257.04 339.7,256.87 340.3,256.63 340.9,256.38 341.5,256.61 342.1,256.82 342.7,256.74 343.3,256.83 343.9,256.67 344.5,256.71 345.1,256.45 345.7,256.73 346.3,256.89 346.9,256.97 347.5,256.92 348.1,257.12 348.7,257.17 349.3,256.88 349.9,256.67 350.5,256.72 351.1,256.9 351.7,256.88 352.3,256.56 352.9,256.32 353.5,256.38 354.1,256.48 354.7,256.27 355.3,256.24 355.9,256.4 356.5,256.8 357.1,256.88 357.7,256.86 358.3,256.7 358.9,256.62 359.5,256.32 360.1,256.07 360.7,255.81 361.3,255.76 361.9,256.18 362.5,256.34 363.1,256.45 363.7,256.26 364.3,255.94 364.9,255.91 365.5,255.94 366.1,256.06 366.7,255.89 367.3,255.71 367.9,255.66 368.5,255.87 369.1,255.71 369.7,255.57 370.3,255.35 370.9,255.63 371.5,255.97 372.1,256.14 372.7,256.25 373.3,256.02 373.9,255.67 374.5,255.41 375.1,255.44 375.7,255.5 376.3,255.58 376.9,255.51 377.5,255.53 378.1,255.33 378.7,255.64 379.3,255.5 379.9,255.5 380.5,255.13 381.1,255.23 381.7,255.25 382.3,255.21 382.9,255.58 383.5,255.6 384.1,255.84 384.7,255.43 385.3,255.4 385.9,255.34 386.5,255.69 387.1,255.57 387.7,255.48 388.3,255.47 388.9,255.77 389.5,255.64 390.1,255.46 390.7,255.41 391.3,255.49 391.9,255.56 392.5,255.49 393.1,255.79 393.7,255.72 394.3,255.72 394.9,255.38 395.5,255.47 396.1,255.27 396.7,255.34 397.3,255.13 397.9,255.12 398.5,254.91 399.1,254.83 399.7,254.95 400.3,255.01 400.9,254.9 401.5,255.03 402.1,255.04 402.7,255.51 403.3,255.39 403.9,255.44 404.5,255.4 405.1,255.55 405.7,255.51 406.3,255.1 406.9,254.96 407.5,255.23 408.1,255.48 408.7,255.55 409.3,255.31 409.9,255.31 410.5,255.02 411.1,255.01 411.7,254.88 412.3,254.93 412.9,254.92 413.5,255.14 414.1,255.02 414.7,254.91 415.3,254.6 415.9,255.02 416.5,255.19 417.1,255.07 417.7,254.99 418.3,255.17 418.9,255.57 419.5,255.3 420.1,255.22 420.7,254.93 421.3,254.81 421.9,254.87 422.5,255.14 423.1,255.17 423.7,255.17 424.3,254.72 424.9,254.77 425.5,254.29 426.1,254.36 426.7,254.27 427.3,254.64 427.9,254.7 428.5,254.7 429.1,254.41 429.7,254.4 430.3,254.75 430.9,254.97 431.5,254.84 432.1,254.74 432.7,254.69 433.3,254.86 433.9,254.77 434.5,254.82 435.1,255 435.7,254.98 436.3,254.96 436.9,254.77 437.5,254.83 438.1,254.68 438.7,254.64 439.3,254.57 439.9,254.73 440.5,254.65 441.1,254.86 441.7,254.73 442.3,255.02 442.9,254.89 443.5,255.12 444.1,255.02 444.7,254.87 445.3,254.57 445.9,254.51 446.5,254.68 447.1,254.9 447.7,254.63 448.3,254.29" fill="none" stroke="#088408" stroke-width="1.3" stroke-linejoin="round" stroke-linecap="round"/>
<polyline points="267.7,289.16 268.3,289.36 268.9,289.63 269.5,289.39 270.1,289.17 270.7,288.82 271.3,288.84 271.9,289.07 272.5,289.06 273.1,289.2 273.7,288.95 274.3,289.02 274.9,288.97 275.5,289.27 276.1,289.41 276.7,289.21 277.3,288.93 277.9,288.71 278.5,289.11 279.1,289.36 279.7,289.67 280.3,289.65 280.9,289.61 281.5,289.68 282.1,289.66 282.7,289.42 283.3,289.36 283.9,289.21 284.5,289.45 285.1,289.3 285.7,289.27 286.3,289.08 286.9,289.01 287.5,288.95 288.1,288.83 288.7,289.01 289.3,289.24 289.9,289.65 290.5,289.58 291.1,289.46 291.7,289.34 292.3,289.07 292.9,289.12 293.5,288.97 294.1,288.98 294.7,288.75 295.3,288.78 295.9,288.82 296.5,288.93 297.1,288.97 297.7,289.03 298.3,288.87 298.9,288.81 299.5,288.72 300.1,288.77 300.7,288.62 301.3,288.68 301.9,288.59 302.5,288.81 303.1,289.08 303.7,289.23 304.3,289.26 304.9,289.24 305.5,289.07 306.1,288.78 306.7,288.72 307.3,289.09 307.9,289.32 308.5,289.01 309.1,288.8 309.7,288.9 310.3,289.24 310.9,289.42 311.5,289.1 312.1,289.07 312.7,288.86 313.3,289.1 313.9,288.75 314.5,289.03 315.1,288.97 315.7,289.24 316.3,288.87 316.9,288.87 317.5,288.79 318.1,288.96 318.7,288.83 319.3,288.89 319.9,288.77 320.5,288.73 321.1,288.45 321.7,288.61 322.3,288.51 322.9,288.53 323.5,288.23 324.1,288.47 324.7,288.62 325.3,288.84 325.9,288.55 326.5,288.48 327.1,288.38 327.7,288.4 328.3,288.18 328.9,288.48 329.5,288.49 330.1,288.62 330.7,288.27 331.3,288.49 331.9,288.37 332.5,288.46 333.1,288.34 333.7,288.7 334.3,288.47 334.9,288.44 335.5,288.27 336.1,288.73 336.7,288.81 337.3,288.79 337.9,288.64 338.5,288.52 339.1,288.3 339.7,288.21 340.3,288.5 340.9,288.83 341.5,288.7 342.1,288.59 342.7,288.63 343.3,288.62 343.9,288.57 344.5,288.32 345.1,288.31 345.7,288.15 346.3,288.07 346.9,288.11 347.5,287.98 348.1,288.07 348.7,287.93 349.3,288.27 349.9,288.36 350.5,288.31 351.1,288.3 351.7,288.1 352.3,288.31 352.9,288.2 353.5,288.26 354.1,288.16 354.7,288.09 355.3,287.98 355.9,288.25 356.5,288.08 357.1,288.4 357.7,288.08 358.3,288.16 358.9,287.94 359.5,287.83 360.1,287.74 360.7,287.71 361.3,287.89 361.9,288.24 362.5,288.53 363.1,288.32 363.7,288.15 364.3,287.72 364.9,288.07 365.5,287.95 366.1,288.3 366.7,288.16 367.3,288.05 367.9,287.6 368.5,287.44 369.1,287.77 369.7,287.82 370.3,287.92 370.9,287.65 371.5,287.72 372.1,287.85 372.7,287.75 373.3,287.89 373.9,287.79 374.5,288.09 375.1,287.95 375.7,288 376.3,287.68 376.9,287.55 377.5,285.9 378.1,286.05 378.7,286.18 379.3,285.92 379.9,285.56 380.5,285.37 381.1,285.69 381.7,285.87 382.3,285.75 382.9,285.81 383.5,285.69 384.1,285.58 384.7,285.14 385.3,285.01 385.9,285.32 386.5,285.34 387.1,285.67 387.7,285.73 388.3,286.16 388.9,286.21 389.5,285.99 390.1,285.81 390.7,285.82 391.3,285.96 391.9,285.8 392.5,285.76 393.1,285.47 393.7,285.48 394.3,285.59 394.9,285.76 395.5,285.74 396.1,285.64 396.7,285.62 397.3,285.49 397.9,285.13 398.5,285.03 399.1,285.18 399.7,285.62 400.3,285.61 400.9,285.85 401.5,285.8 402.1,285.88 402.7,285.95 403.3,285.9 403.9,285.92 404.5,285.57 405.1,285.42 405.7,285.62 406.3,285.74 406.9,285.61 407.5,285.36 408.1,285.32 408.7,285.32 409.3,285.41 409.9,285.19 410.5,285.49 411.1,285.3 411.7,285.33 412.3,285.21 412.9,285.27 413.5,285.64 414.1,285.59 414.7,285.69 415.3,285.66 415.9,285.52 416.5,285.63 417.1,285.54 417.7,285.63 418.3,285.73 418.9,285.43 419.5,285.63 420.1,285.24 420.7,285.63 421.3,285.28 421.9,285.24 422.5,285.07 423.1,285.44 423.7,285.53 424.3,285.52 424.9,285.37 425.5,285.35 426.1,285.37 426.7,285.08 427.3,285.18 427.9,285.28 428.5,285.44 429.1,285.33 429.7,284.98 430.3,285.15 430.9,285.25 431.5,285.66 432.1,285.67 432.7,285.51 433.3,285.51 433.9,285.6 434.5,285.94 435.1,285.9 435.7,285.77 436.3,285.72 436.9,285.64 437.5,285.59 438.1,285.37 438.7,285.11 439.3,285.17 439.9,285.33 440.5,285.29 441.1,285.24 441.7,285.25 442.3,285.46 442.9,285.52 443.5,285.65 444.1,285.58 444.7,285.6 445.3,285.41 445.9,285.5 446.5,285.3 447.1,285.51 447.7,285.44 448.3,285.46" fill="none" stroke="#ff0000" stroke-width="1.3" stroke-linejoin="round" stroke-linecap="round"/>
<polyline points="267.7,313.62 268.3,313.87 268.9,314.26 269.5,314.04 270.1,313.84 270.7,313.73 271.3,313.91 271.9,313.92 272.5,313.89 273.1,313.75 273.7,313.97 274.3,313.69 274.9,313.6 275.5,313.65 276.1,313.75 276.7,313.76 277.3,313.7 277.9,313.83 278.5,313.76 279.1,313.63 279.7,313.64 280.3,313.64 280.9,313.67 281.5,313.4 282.1,313.48 282.7,313.19 283.3,313.22 283.9,313.52 284.5,313.67 285.1,314.03 285.7,313.76 286.3,313.85 286.9,313.79 287.5,313.89 288.1,313.65 288.7,313.5 289.3,313.47 289.9,313.49 290.5,313.24 291.1,313.35 291.7,313.5 292.3,313.53 292.9,313.32 293.5,313.17 294.1,313.45 294.7,313.46 295.3,313.4 295.9,313.4 296.5,313.19 297.1,313.26 297.7,312.88 298.3,313.18 298.9,313.09 299.5,313.32 300.1,312.99 300.7,313.16 301.3,313.23 301.9,313.43 302.5,313.41 303.1,313.3 303.7,313.24 304.3,313.3 304.9,313.1 305.5,313.11 306.1,312.93 306.7,313.28 307.3,313.5 307.9,313.4 308.5,313.05 309.1,312.92 309.7,313.16 310.3,313.08 310.9,313.07 311.5,313.24 312.1,313.43 312.7,313.24 313.3,313.05 313.9,313.29 314.5,313.24 315.1,313.1 315.7,312.73 316.3,312.89 316.9,312.96 317.5,312.98 318.1,312.85 318.7,312.63 319.3,312.65 319.9,312.92 320.5,313.17 321.1,313.15 321.7,313.11 322.3,312.99 322.9,312.96 323.5,312.51 324.1,312.4 324.7,312.36 325.3,312.44 325.9,312.77 326.5,312.79 327.1,312.79 327.7,312.64 328.3,312.94 328.9,312.95 329.5,313.01 330.1,312.73 330.7,312.84 331.3,312.75 331.9,313.01 332.5,313.09 333.1,313.03 333.7,312.97 334.3,312.76 334.9,312.69 335.5,312.73 336.1,312.8 336.7,312.97 337.3,312.64 337.9,312.81 338.5,312.71 339.1,312.66 339.7,312.66 340.3,312.57 340.9,312.6 341.5,312.26 342.1,312.07 342.7,311.99 343.3,312.18 343.9,312.18 344.5,312.19 345.1,312.06 345.7,312.24 346.3,312.28 346.9,312.42 347.5,312.27 348.1,312.25 348.7,312.06 349.3,311.98 349.9,311.9 350.5,311.75 351.1,312.02 351.7,311.97 352.3,312.2 352.9,311.94 353.5,312.17 354.1,312.15 354.7,312.2 355.3,312.32 355.9,312.31 356.5,312.39 357.1,311.95 357.7,311.82 358.3,311.66 358.9,311.85 359.5,312.09 360.1,312.37 360.7,312.16 361.3,312.03 361.9,312.05 362.5,312.27 363.1,311.98 363.7,311.94 364.3,311.88 364.9,312.29 365.5,312.29 366.1,312.48 366.7,312.45 367.3,312.06 367.9,312.04 368.5,311.75 369.1,311.79 369.7,311.61 370.3,311.78 370.9,311.75 371.5,311.86 372.1,312.08 372.7,311.3 373.3,311.13 373.9,310.76 374.5,310.89 375.1,310.69 375.7,310.82 376.3,310.62 376.9,310.47 377.5,310.6 378.1,310.38 378.7,310.84 379.3,310.79 379.9,311.09 380.5,311.02 381.1,310.75 381.7,310.53 382.3,310.27 382.9,310.53 383.5,310.32 384.1,310.22 384.7,310.23 385.3,310.6 385.9,310.87 386.5,310.88 387.1,310.74 387.7,310.81 388.3,310.56 388.9,310.74 389.5,310.38 390.1,310.38 390.7,310.22 391.3,310.58 391.9,310.57 392.5,310.63 393.1,310.72 393.7,310.72 394.3,310.49 394.9,310.05 395.5,310.27 396.1,310.41 396.7,310.58 397.3,310.43 397.9,310.26 398.5,310.19 399.1,310.06 399.7,310.13 400.3,310.44 400.9,310.45 401.5,310.38 402.1,310.39 402.7,310.55 403.3,310.52 403.9,310.44 404.5,310.5 405.1,310.81 405.7,310.86 406.3,310.74 406.9,310.54 407.5,310.53 408.1,310.63 408.7,310.87 409.3,310.6 409.9,310.48 410.5,310.48 411.1,310.58 411.7,310.7 412.3,310.6 412.9,310.78 413.5,310.66 414.1,310.68 414.7,310.72 415.3,310.7 415.9,310.55 416.5,310.47 417.1,310.39 417.7,310.72 418.3,310.55 418.9,310.93 419.5,310.78 420.1,310.72 420.7,310.55 421.3,310.62 421.9,310.79 422.5,310.85 423.1,310.71 423.7,310.94 424.3,310.72 424.9,310.94 425.5,310.49 426.1,310.66 426.7,310.31 427.3,310.37 427.9,310.42 428.5,310.83 429.1,310.92 429.7,310.84 430.3,310.64 430.9,310.79 431.5,310.77 432.1,310.72 432.7,310.84 433.3,310.95 433.9,310.95 434.5,310.94 435.1,311.16 435.7,311.21 436.3,310.83 436.9,310.51 437.5,310.74 438.1,310.82 438.7,310.77 439.3,310.73 439.9,310.71 440.5,311.03 441.1,310.77 441.7,310.9 442.3,310.79 442.9,310.74 443.5,310.93 444.1,310.87 444.7,311.19 445.3,311.19 445.9,311.02 446.5,311.06 447.1,311.09 447.7,311.18 448.3,310.9" fill="none" stroke="#088408" stroke-width="1.3" stroke-linejoin="round" stroke-linecap="round"/>
</g>
<rect x="267.5" y="201.3" width="180.6" height="129.5" fill="none" stroke="#333" stroke-width="1"/>
<line x1="264.2" y1="201.3" x2="267.5" y2="201.3" stroke="#333" stroke-width="1"/>
<line x1="264.2" y1="222.88" x2="267.5" y2="222.88" stroke="#333" stroke-width="1"/>
<line x1="264.2" y1="244.46" x2="267.5" y2="244.46" stroke="#333" stroke-width="1"/>
<line x1="264.2" y1="266.04" x2="267.5" y2="266.04" stroke="#333" stroke-width="1"/>
<line x1="264.2" y1="287.62" x2="267.5" y2="287.62" stroke="#333" stroke-width="1"/>
<line x1="264.2" y1="309.2" x2="267.5" y2="309.2" stroke="#333" stroke-width="1"/>
<line x1="264.2" y1="330.78" x2="267.5" y2="330.78" stroke="#333" stroke-width="1"/>
<line x1="267.7" y1="330.8" x2="267.7" y2="334.1" stroke="#333" stroke-width="1"/>
<text x="267.7" y="345" font-size="8" text-anchor="middle" fill="#222" font-weight="normal" font-style="normal" stroke="#222" stroke-width="0.1">3300</text>
<line x1="303.7" y1="330.8" x2="303.7" y2="334.1" stroke="#333" stroke-width="1"/>
<text x="303.7" y="345" font-size="8" text-anchor="middle" fill="#222" font-weight="normal" font-style="normal" stroke="#222" stroke-width="0.1">3320</text>
<line x1="339.7" y1="330.8" x2="339.7" y2="334.1" stroke="#333" stroke-width="1"/>
<text x="339.7" y="345" font-size="8" text-anchor="middle" fill="#222" font-weight="normal" font-style="normal" stroke="#222" stroke-width="0.1">3340</text>
<line x1="375.7" y1="330.8" x2="375.7" y2="334.1" stroke="#333" stroke-width="1"/>
<text x="375.7" y="345" font-size="8" text-anchor="middle" fill="#222" font-weight="normal" font-style="normal" stroke="#222" stroke-width="0.1">3360</text>
<line x1="411.7" y1="330.8" x2="411.7" y2="334.1" stroke="#333" stroke-width="1"/>
<text x="411.7" y="345" font-size="8" text-anchor="middle" fill="#222" font-weight="normal" font-style="normal" stroke="#222" stroke-width="0.1">3380</text>
<line x1="447.7" y1="330.8" x2="447.7" y2="334.1" stroke="#333" stroke-width="1"/>
<text x="447.7" y="345" font-size="8" text-anchor="middle" fill="#222" font-weight="normal" font-style="normal" stroke="#222" stroke-width="0.1">3400</text>
<text x="358" y="361" font-size="10.1" text-anchor="middle" fill="#111" font-weight="normal" font-style="normal" stroke="#111" stroke-width="0.1">Magnetic field (mT)</text>
<text x="0" y="0" font-size="10.2" text-anchor="middle" fill="#111" font-weight="normal" font-style="normal" stroke="#111" stroke-width="0.1" transform="translate(257,265.5) rotate(-90)">Intensity (a.u.)</text>
<text x="272.8" y="212.4" font-size="9.4" text-anchor="start" fill="#111" font-weight="normal" font-style="normal" stroke="#111" stroke-width="0.1">Laser on</text>
<text x="272.8" y="277.8" font-size="9.4" text-anchor="start" fill="#111" font-weight="normal" font-style="normal" stroke="#111" stroke-width="0.1">Laser off</text>
<line x1="372" y1="210.4" x2="388.4" y2="210.4" stroke="#088408" stroke-width="1.1"/>
<text x="392" y="212.96" font-size="7.1" text-anchor="start" fill="#222" font-weight="normal" font-style="normal" stroke="#222" stroke-width="0.1">MAP-AgP35 NP</text>
<line x1="372" y1="219.1" x2="388.4" y2="219.1" stroke="#ff0000" stroke-width="1.1"/>
<text x="392" y="221.66" font-size="7.1" text-anchor="start" fill="#222" font-weight="normal" font-style="normal" stroke="#222" stroke-width="0.1">MSND</text>
<text x="469.5" y="199.9" font-size="15.5" text-anchor="start" fill="#000" font-weight="bold" font-style="normal">f</text>
<g clip-path="url(#cf)">
<polyline points="502.9,311.9 503.47,311.89 504.29,311.87 505.24,311.84 506.24,311.82 507.19,311.81 508,311.8 508.67,311.78 509.27,311.75 509.83,311.73 510.36,311.73 510.88,311.78 511.4,311.9 511.92,312.19 512.43,312.66 512.92,313.17 513.41,313.61 513.9,313.86 514.4,313.8 514.91,313.33 515.43,312.51 515.95,311.51 516.47,310.46 516.99,309.51 517.5,308.8 518,308.42 518.5,308.27 519,308.21 519.5,308.12 520,307.86 520.5,307.3 521.01,306.48 521.53,305.5 522.05,304.36 522.57,303.03 523.09,301.48 523.6,299.7 524.1,297.56 524.6,295.06 525.1,292.34 525.6,289.56 526.1,286.86 526.6,284.4 527.12,282.11 527.66,279.86 528.19,277.7 528.72,275.67 529.23,273.82 529.7,272.2 530.13,270.84 530.52,269.72 530.89,268.78 531.25,267.97 531.61,267.22 532,266.5 532.4,265.77 532.81,265.08 533.22,264.46 533.64,263.95 534.06,263.59 534.5,263.4 534.96,263.4 535.43,263.57 535.91,263.88 536.39,264.32 536.86,264.86 537.3,265.5 537.69,266.41 538.05,267.63 538.39,268.97 538.74,270.2 539.14,271.11 539.6,271.5 540.16,271.27 540.79,270.57 541.46,269.56 542.14,268.37 542.8,267.17 543.4,266.1 543.92,265.2 544.38,264.36 544.81,263.51 545.27,262.55 545.78,261.41 546.4,260 547.16,258.17 548.04,255.96 548.98,253.56 549.92,251.18 550.81,249.02 551.6,247.3 552.28,246.09 552.88,245.24 553.44,244.63 553.96,244.09 554.48,243.49 555,242.7 555.51,241.72 556,240.67 556.48,239.56 556.96,238.41 557.46,237.22 558,236 558.59,234.68 559.22,233.22 559.88,231.72 560.53,230.29 561.18,229.02 561.8,228 562.4,227.31 563,226.9 563.59,226.64 564.16,226.43 564.7,226.15 565.2,225.7 565.64,225.04 566.02,224.27 566.38,223.42 566.72,222.58 567.09,221.78 567.5,221.1 567.96,220.48 568.46,219.86 568.98,219.29 569.5,218.83 570.01,218.52 570.5,218.4 570.96,218.58 571.4,219.02 571.82,219.62 572.26,220.24 572.71,220.78 573.2,221.1 573.73,221.11 574.28,220.89 574.86,220.57 575.44,220.31 576.03,220.24 576.6,220.5 577.15,221.11 577.69,221.94 578.23,222.98 578.79,224.16 579.37,225.44 580,226.8 580.7,228.35 581.46,230.16 582.24,232.08 583.03,233.95 583.8,235.64 584.5,237 585.14,237.86 585.74,238.29 586.32,238.54 586.88,238.84 587.43,239.42 588,240.5 588.57,242.24 589.12,244.48 589.68,247 590.23,249.57 590.81,251.98 591.4,254 592.01,255.49 592.64,256.6 593.28,257.54 593.94,258.53 594.61,259.78 595.3,261.5 596.03,263.89 596.81,266.81 597.6,269.99 598.38,273.15 599.12,276.01 599.8,278.3 600.38,279.81 600.88,280.73 601.34,281.35 601.81,281.97 602.31,282.89 602.9,284.4 603.6,286.72 604.38,289.66 605.21,292.89 606.03,296.11 606.81,298.98 607.5,301.2 608.09,302.69 608.61,303.69 609.09,304.36 609.55,304.83 610.01,305.26 610.5,305.8 611.01,306.35 611.53,306.78 612.05,307.16 612.57,307.59 613.09,308.14 613.6,308.9 614.11,309.98 614.61,311.34 615.11,312.82 615.61,314.28 616.11,315.56 616.6,316.5 617.09,317.07 617.56,317.37 618.04,317.5 618.51,317.53 619,317.53 619.5,317.6 620,317.64 620.49,317.57 620.99,317.49 621.52,317.47 622.08,317.61 622.7,318 623.38,318.68 624.11,319.6 624.88,320.68 625.67,321.83 626.48,323 627.3,324.1 628.19,325.22 629.18,326.45 630.19,327.68 631.13,328.83 631.93,329.8 632.5,330.5" fill="none" stroke="#ff0000" stroke-width="1.2" stroke-linejoin="round" stroke-linecap="round"/>
<line x1="570.8" y1="220" x2="570.8" y2="330.2" stroke="#222" stroke-width="1.0" stroke-dasharray="2,1.5"/>
</g>
<rect x="502.9" y="201.1" width="129" height="129.1" fill="none" stroke="#333" stroke-width="1"/>
<line x1="499.6" y1="224" x2="502.9" y2="224" stroke="#333" stroke-width="1"/>
<line x1="499.6" y1="247.6" x2="502.9" y2="247.6" stroke="#333" stroke-width="1"/>
<line x1="499.6" y1="271.2" x2="502.9" y2="271.2" stroke="#333" stroke-width="1"/>
<line x1="499.6" y1="294.8" x2="502.9" y2="294.8" stroke="#333" stroke-width="1"/>
<line x1="499.6" y1="318.4" x2="502.9" y2="318.4" stroke="#333" stroke-width="1"/>
<line x1="515.2" y1="330.2" x2="515.2" y2="333.5" stroke="#333" stroke-width="1"/>
<text x="515.2" y="344.6" font-size="8" text-anchor="middle" fill="#222" font-weight="normal" font-style="normal" stroke="#222" stroke-width="0.1">1000</text>
<line x1="541.2" y1="330.2" x2="541.2" y2="333.5" stroke="#333" stroke-width="1"/>
<text x="541.2" y="344.6" font-size="8" text-anchor="middle" fill="#222" font-weight="normal" font-style="normal" stroke="#222" stroke-width="0.1">1100</text>
<line x1="567.2" y1="330.2" x2="567.2" y2="333.5" stroke="#333" stroke-width="1"/>
<text x="567.2" y="344.6" font-size="8" text-anchor="middle" fill="#222" font-weight="normal" font-style="normal" stroke="#222" stroke-width="0.1">1200</text>
<line x1="593.2" y1="330.2" x2="593.2" y2="333.5" stroke="#333" stroke-width="1"/>
<text x="593.2" y="344.6" font-size="8" text-anchor="middle" fill="#222" font-weight="normal" font-style="normal" stroke="#222" stroke-width="0.1">1300</text>
<line x1="619.2" y1="330.2" x2="619.2" y2="333.5" stroke="#333" stroke-width="1"/>
<text x="619.2" y="344.6" font-size="8" text-anchor="middle" fill="#222" font-weight="normal" font-style="normal" stroke="#222" stroke-width="0.1">1400</text>
<text x="567.8" y="360" font-size="10.1" text-anchor="middle" fill="#111" font-weight="normal" font-style="normal" stroke="#111" stroke-width="0.1">Wavelength (nm)</text>
<text x="0" y="0" font-size="10.2" text-anchor="middle" fill="#111" font-weight="normal" font-style="normal" stroke="#111" stroke-width="0.1" transform="translate(492,264.5) rotate(-90)">Intensity (a.u.)</text>
<text x="543.6" y="213.8" font-size="8.2" fill="#222" stroke="#222" stroke-width="0.1"><tspan font-family="Liberation Serif" font-size="9.2">&#955;</tspan><tspan font-size="5.4" dy="1.8">em</tspan><tspan dy="-1.8"> = 1214 nm</tspan></text>
<rect x="637.8" y="200.5" width="45.9" height="61.9" fill="#fff" stroke="#8090b8" stroke-width="1"/>
<defs><linearGradient id="tube" x1="0" x2="1"><stop offset="0" stop-color="#46342a"/><stop offset="0.2" stop-color="#806a5a"/><stop offset="0.45" stop-color="#a08c7c"/><stop offset="0.75" stop-color="#887262"/><stop offset="1" stop-color="#42302a"/></linearGradient><linearGradient id="tube2" x1="0" x2="1"><stop offset="0" stop-color="#2e201c"/><stop offset="0.45" stop-color="#54403a"/><stop offset="1" stop-color="#2a1c18"/></linearGradient><radialGradient id="nirbg" cx="50%" cy="50%" r="70%"><stop offset="0" stop-color="#1c0cc4"/><stop offset="1" stop-color="#1406b6"/></radialGradient><linearGradient id="nirt" x1="0" y1="0" x2="0" y2="1"><stop offset="0" stop-color="#8e0652"/><stop offset="0.64" stop-color="#9a0846"/><stop offset="0.69" stop-color="#d81800"/><stop offset="1" stop-color="#ec2200"/></linearGradient></defs>
<clipPath id="tubeclip"><path d="M649.6,200.5 L672.4,200.5 L670.6,222 L668.6,237 Q668.2,247.8 661,247.8 Q653.8,247.8 653.4,237 L651.4,222 Z"/></clipPath>
<g clip-path="url(#tubeclip)">
<rect x="649" y="200" width="24" height="31" fill="url(#tube)"/>
<rect x="649" y="209.8" width="24" height="4.2" fill="#6a5446" opacity="0.45"/>
<rect x="649" y="230.6" width="24" height="19" fill="url(#tube2)"/>
</g>
<text x="661" y="258" font-size="8.4" text-anchor="middle" fill="#111" font-weight="normal" font-style="normal" stroke="#111" stroke-width="0.1">Optical</text>
<rect x="637.5" y="267.5" width="46.2" height="61.9" fill="url(#nirbg)"/>
<defs><linearGradient id="nirh" x1="0" x2="1"><stop offset="0" stop-color="#6a1090"/><stop offset="0.22" stop-color="#9c0c58"/><stop offset="0.5" stop-color="#ac0c44"/><stop offset="0.78" stop-color="#9c0c58"/><stop offset="1" stop-color="#6a1090"/></linearGradient><radialGradient id="nirb" cx="50%" cy="45%" r="60%"><stop offset="0" stop-color="#ff3200"/><stop offset="0.7" stop-color="#f02400"/><stop offset="1" stop-color="#c01420"/></radialGradient><clipPath id="nirclip"><path d="M648.4,267.5 L673.2,267.5 L669.6,298 Q668,310.5 663,313.6 Q661,314.6 659,313.6 Q654,310.5 652.4,298 Z"/></clipPath></defs>
<path d="M646.8,267.5 L674.8,267.5 L670.8,299 Q669,312.5 663.5,315 Q661,316.2 658.5,315 Q653,312.5 651.2,299 Z" fill="#4a10b0" opacity="0.75"/>
<g clip-path="url(#nirclip)"><rect x="647" y="267" width="28" height="50" fill="url(#nirh)"/><rect x="647" y="296.5" width="28" height="20" fill="url(#nirb)"/></g>
<text x="660.8" y="325.4" font-size="8.4" text-anchor="middle" fill="#fff" font-weight="normal" font-style="normal" stroke="#fff" stroke-width="0.1">NIR-II</text>
</svg></body></html>
